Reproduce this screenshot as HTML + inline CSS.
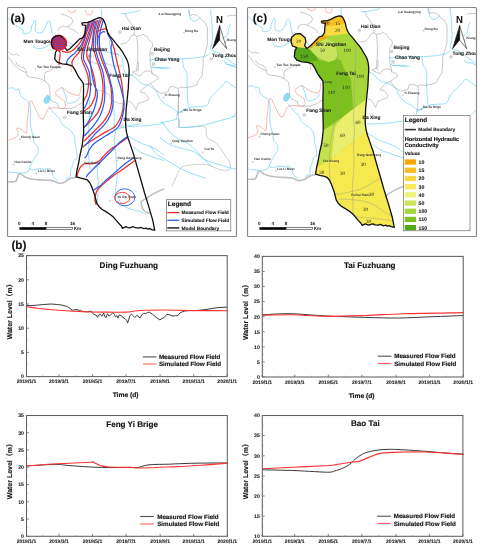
<!DOCTYPE html>
<html><head><meta charset="utf-8"><title>Figure</title>
<style>html,body{margin:0;padding:0;background:#fff;}body{width:482px;height:550px;overflow:hidden;}svg{display:block;}</style>
</head><body>
<svg width="482" height="550" viewBox="0 0 482 550" font-family="Liberation Sans, Arial, sans-serif">
<defs>
<clipPath id="bclip"><path d="M321.4,21.3 L323.5,20.8 L326.6,20.8 L330.7,19.3 L334.9,17.2 L338.0,16.1 L340.5,15.8 L342.5,17.1 L344.1,20.0 L345.4,23.3 L346.2,27.4 L347.4,30.8 L349.5,34.1 L352.4,37.4 L355.7,41.6 L359.1,45.7 L361.6,49.0 L364.0,53.2 L366.5,57.5 L368.0,62.0 L368.7,67.0 L368.7,72.0 L368.3,77.0 L367.9,85.9 L366.8,96.8 L365.7,107.7 L365.2,118.6 L365.3,124.1 L366.1,130.0 L367.6,135.5 L369.5,140.9 L373.2,151.8 L376.8,164.5 L380.5,177.3 L384.1,190.0 L388.6,204.5 L392.3,217.3 L394.3,227.3 L391.4,226.6 L389.0,225.6 L387.0,226.2 L385.9,225.2 L383.5,225.8 L380.5,224.4 L378.0,225.2 L375.0,224.8 L373.0,223.8 L371.4,224.2 L369.5,225.0 L367.7,224.8 L365.5,223.8 L363.5,224.6 L362.2,225.4 L361.0,223.2 L358.5,220.6 L356.0,217.8 L353.0,214.2 L349.8,211.6 L345.5,208.8 L341.5,206.4 L338.5,203.6 L336.3,200.2 L335.2,196.0 L334.2,191.9 L332.6,187.6 L331.1,183.6 L329.2,179.8 L327.0,177.3 L323.5,176.2 L319.7,175.3 L315.6,174.2 L316.5,168.0 L318.3,160.0 L319.7,152.0 L321.8,143.0 L323.2,131.0 L323.2,125.0 L322.9,112.3 L322.9,99.5 L323.2,86.8 L322.9,81.1 L321.0,78.5 L317.8,74.1 L314.6,67.7 L312.1,63.9 L307.6,62.4 L301.8,61.8 L296.8,60.1 L294.3,56.8 L295.1,50.2 L296.8,47.7 L292.6,46.0 L291.0,41.9 L291.8,36.9 L295.5,33.9 L300.1,33.6 L305.1,37.7 L305.9,41.9 L304.6,45.6 L306.8,48.5 L310.0,46.2 L313.1,43.1 L316.2,40.0 L319.3,36.9 L322.4,35.9 L324.5,32.7 L325.0,25.5 L325.6,23.4 L321.9,22.9 Z"/></clipPath>
<clipPath id="pa"><rect x="8" y="8" width="228" height="228"/></clipPath>
<clipPath id="pc"><rect x="248" y="8" width="228" height="228"/></clipPath>
<clipPath id="blobclip"><path d="M296.8,47.7 C295.5,47.4 293.6,47.0 292.6,46.0 C291.6,45.0 291.1,43.4 291.0,41.9 C290.9,40.4 291.1,38.2 291.8,36.9 C292.6,35.6 294.1,34.4 295.5,33.9 C296.9,33.4 298.5,33.0 300.1,33.6 C301.7,34.2 304.1,36.3 305.1,37.7 C306.1,39.1 306.0,40.6 305.9,41.9 C305.8,43.2 305.5,44.6 304.6,45.6 C303.7,46.6 301.8,47.4 300.5,47.8 C299.2,48.1 298.1,48.0 296.8,47.7 Z"/></clipPath>
</defs>
<style>text{paint-order:stroke;text-rendering:geometricPrecision;} .hv{stroke:#1a1a1a;stroke-width:0.15px;} .lv{stroke:#222;stroke-width:0.09px;}</style>
<rect width="482" height="550" fill="#fff"/>
<rect x="7.5" y="7.5" width="229" height="229" fill="#fff" stroke="#8a8a8a" stroke-width="1.2" rx="1"/>
<g clip-path="url(#pa)">
<g transform="translate(-239.6,1.8) scale(1,1.005)">
<path d="M247.5,179.3 C248.2,179.3 250.7,179.3 252.0,179.2 C253.3,179.1 254.6,179.3 255.5,178.5 C256.4,177.7 256.7,175.7 257.2,174.5 C257.7,173.3 257.9,171.7 258.6,171.3 C259.3,170.9 260.3,171.4 261.4,172.0 C262.5,172.6 263.5,173.9 265.1,174.6 C266.7,175.3 268.7,175.9 271.0,176.3 C273.3,176.7 276.2,177.0 279.0,177.2 C281.8,177.4 285.2,177.4 287.5,177.6 C289.8,177.8 291.5,177.8 293.0,178.2 C294.5,178.6 295.5,179.4 296.5,179.8 C297.5,180.2 297.7,180.7 299.0,180.6 C300.3,180.5 302.5,180.3 304.3,179.5 C306.1,178.7 308.0,176.7 309.9,175.9 C311.8,175.1 314.6,174.8 315.5,174.6" fill="none" stroke="#c0c0c0" stroke-width="1.6"/>
<path d="M404.0,186.5 C403.5,186.6 402.5,186.5 400.9,187.2 C399.3,187.8 396.5,189.2 394.3,190.4 C392.1,191.6 389.9,193.2 387.7,194.6 C385.5,196.0 382.0,197.3 381.0,198.7 C380.0,200.1 381.2,201.6 381.5,203.0 C381.8,204.4 381.7,205.7 382.7,206.9 C383.7,208.1 386.5,209.9 387.7,210.3 C388.9,210.7 389.7,209.6 390.1,209.5" fill="none" stroke="#c0c0c0" stroke-width="1.6"/>
<path d="M300.0,12.0 L305.0,13.2 L308.7,15.1 L311.2,16.3 L312.5,19.5 L311.2,21.9 L307.5,24.4 L310.0,26.9 L313.7,28.2 L316.2,30.0 L318.0,33.0" fill="none" stroke="#9c9c9c" stroke-width="0.55"/>
<path d="M297.8,29.2 L299.1,25.4 L302.8,24.2 L308.0,25.4" fill="none" stroke="#9c9c9c" stroke-width="0.55"/>
<path d="M248.0,49.7 L250.0,51.5 L253.0,53.0 L256.0,52.0 L259.0,54.0" fill="none" stroke="#9c9c9c" stroke-width="0.55"/>
<path d="M248.0,55.3 L250.5,57.8 L251.7,60.3 L255.5,64.0 L258.0,66.5 L262.0,69.0 L266.0,70.5" fill="none" stroke="#9c9c9c" stroke-width="0.55"/>
<path d="M255.5,60.0 L256.7,62.5 L260.5,65.0 L263.0,65.0 L266.0,68.7 L266.7,73.7 L269.2,74.9 L275.4,75.6 L280.4,76.8 L284.1,78.7 L286.6,80.5 L288.5,82.4 L289.1,86.2 L289.7,91.1 L289.7,96.1 L291.0,98.6 L294.1,99.9 L297.2,101.1 L297.8,104.8 L300.3,106.1 L304.0,106.1 L310.0,106.1 L316.0,104.0 L322.0,100.0" fill="none" stroke="#9c9c9c" stroke-width="0.55"/>
<path d="M284.1,78.7 L284.1,72.5 L285.4,70.0 L289.1,68.7 L292.8,66.2 L296.0,65.5 L301.0,65.2" fill="none" stroke="#9c9c9c" stroke-width="0.55"/>
<path d="M365.0,11.7 L366.2,15.5 L370.0,20.5 L372.5,24.2 L373.7,29.2 L373.7,32.9 L371.2,33.5 L368.7,37.9 L365.6,41.0 L362.5,41.6 L360.0,42.2" fill="none" stroke="#9c9c9c" stroke-width="0.55"/>
<path d="M373.7,32.9 L376.2,34.2 L376.8,37.9 L377.4,45.4 L377.4,55.3 L376.8,62.8 L376.2,68.0 L378.0,70.0" fill="none" stroke="#9c9c9c" stroke-width="0.55"/>
<path d="M376.2,34.2 L381.2,33.5 L382.4,32.3 L386.2,34.2 L388.6,37.9 L391.8,40.4 L392.4,44.1 L389.9,47.9 L389.3,52.8 L389.9,57.8 L389.9,62.8 L391.1,68.0 L391.7,72.5" fill="none" stroke="#9c9c9c" stroke-width="0.55"/>
<path d="M378.0,60.0 L378.0,67.5 L371.7,70.0 L374.2,71.2 L376.7,72.5 L380.5,73.7 L382.9,70.0 L386.7,68.7 L390.4,69.3 L392.9,72.5 L396.6,73.7 L397.9,76.2 L394.2,78.7 L390.4,81.2 L386.7,83.0 L384.2,84.9 L381.7,87.4 L379.8,89.9 L384.2,90.5 L385.4,92.4 L387.9,94.9 L387.9,97.4 L385.4,98.6 L381.7,99.9 L378.0,101.1 L376.7,104.8 L375.5,107.3 L373.0,102.3 L370.5,99.9 L368.0,99.2" fill="none" stroke="#9c9c9c" stroke-width="0.55"/>
<path d="M390.4,81.2 L392.9,84.9 L396.6,88.6 L400.4,91.1 L404.1,90.5 L407.9,89.3 L409.1,84.9 L412.8,84.3 L417.8,86.2 L420.3,84.9 L424.0,85.5 L431.7,84.3 L436.7,82.4 L437.9,78.7 L441.7,73.7 L442.3,67.5 L442.9,60.0" fill="none" stroke="#9c9c9c" stroke-width="0.55"/>
<path d="M417.8,86.2 L418.4,92.4 L417.8,99.9 L417.8,107.3 L416.6,112.3" fill="none" stroke="#9c9c9c" stroke-width="0.55"/>
<path d="M428.5,8.0 L429.4,13.6 L433.0,12.5 L436.8,13.6 L441.8,18.6 L444.5,20.6 L447.0,25.7 L447.0,42.5 L443.8,54.0 L442.6,56.8 L442.9,60.0" fill="none" stroke="#9c9c9c" stroke-width="0.55"/>
<path d="M466.7,14.5 L470.0,13.5 L476.0,13.5" fill="none" stroke="#9c9c9c" stroke-width="0.55"/>
<path d="M248.0,137.9 L253.0,136.1 L257.3,133.6 L258.0,129.8 L256.7,128.0 L256.1,126.1 L258.0,125.5 L261.7,127.3 L264.2,129.8 L266.1,130.5 L266.7,126.7 L266.7,121.7 L266.7,120.0 L267.9,109.8 L268.5,101.1 L269.8,98.6 L271.7,99.2 L272.9,102.3 L275.4,107.3 L277.9,112.3 L280.4,116.7 L282.9,116.7 L284.7,113.5 L286.0,109.8 L287.9,106.7 L290.3,105.5 L295.3,105.5 L300.3,106.1 L304.0,106.1 L305.3,103.6 L304.0,98.6 L300.3,96.1 L296.6,93.6 L294.7,90.5 L295.9,88.6 L297.8,88.0 L300.3,85.5 L302.8,86.2 L305.3,88.0 L308.0,89.9 L313.4,92.4 L318.4,93.3 L320.0,90.0 L320.9,83.3" fill="none" stroke="#f08a7a" stroke-width="0.6"/>
<path d="M306.8,8.2 L310.0,10.1 L312.5,10.7 L314.9,9.5 L315.6,7.6" fill="none" stroke="#f08a7a" stroke-width="0.6"/>
<path d="M324.9,8.2 L325.5,10.7 L326.8,12.6 L329.9,13.2 L331.8,11.4 L332.1,8.2" fill="none" stroke="#f08a7a" stroke-width="0.6"/>
<path d="M309.0,63.5 L311.0,66.0 L310.5,70.0" fill="none" stroke="#f08a7a" stroke-width="0.6"/>
<path d="M248.0,16.7 C248.6,17.2 250.4,18.6 251.7,19.8 C252.9,21.0 254.0,22.5 255.5,23.6 C257.0,24.8 259.3,25.9 260.5,26.7 C261.7,27.5 262.6,27.8 262.9,28.5 C263.2,29.2 261.9,30.5 262.3,31.0 C262.7,31.5 264.2,31.8 265.4,31.7 C266.5,31.6 268.3,31.0 269.2,30.4 C270.1,29.8 270.7,28.9 271.0,27.9 C271.3,26.9 270.7,25.2 271.0,24.2 C271.3,23.2 272.5,22.5 272.9,21.7 C273.3,20.9 273.2,19.7 273.5,19.2 C273.8,18.7 274.5,18.3 274.8,18.6 C275.1,18.9 275.4,20.0 275.4,21.1 C275.4,22.2 274.8,23.9 274.8,25.4 C274.8,26.8 274.8,28.9 275.4,29.8 C276.0,30.7 277.5,30.9 278.5,31.0 C279.5,31.1 280.7,31.0 281.6,30.4 C282.5,29.8 283.4,28.6 284.1,27.3 C284.8,26.1 285.5,24.1 286.0,22.9 C286.5,21.6 286.7,20.3 287.2,19.8 C287.7,19.3 288.6,19.3 289.1,19.8 C289.6,20.3 290.0,21.5 290.3,22.9 C290.6,24.2 290.7,26.2 291.0,27.9 C291.3,29.6 291.7,31.5 292.2,32.9 C292.7,34.2 293.8,35.5 294.1,36.0" fill="none" stroke="#56c7f0" stroke-width="0.6"/>
<path d="M272.9,42.9 C273.1,43.3 273.4,44.8 274.2,45.4 C275.0,46.0 276.4,46.5 277.9,46.6 C279.3,46.7 281.4,46.4 282.9,46.0 C284.3,45.6 285.6,44.6 286.6,44.1 C287.6,43.6 288.2,43.3 289.1,42.9 C290.0,42.5 291.7,41.8 292.2,41.6" fill="none" stroke="#56c7f0" stroke-width="0.6"/>
<path d="M305.9,42.9 C306.2,43.1 307.3,43.8 308.0,44.1 C308.7,44.5 309.7,44.9 310.0,45.0" fill="none" stroke="#56c7f0" stroke-width="0.6"/>
<path d="M341.1,8.0 L341.3,15.1" fill="none" stroke="#56c7f0" stroke-width="0.6"/>
<path d="M361.2,11.7 C361.8,11.7 363.3,11.9 365.0,11.7 C366.7,11.5 369.5,10.8 371.2,10.5 C372.9,10.2 373.6,10.2 375.0,9.9 C376.4,9.6 379.1,8.8 379.9,8.6" fill="none" stroke="#56c7f0" stroke-width="0.6"/>
<path d="M388.6,57.8 C389.2,57.8 390.8,57.9 392.4,57.8 C394.0,57.7 395.1,57.4 398.0,57.2 C400.9,57.0 406.3,56.9 410.0,56.8 C413.7,56.7 416.9,56.9 420.2,56.8 C423.5,56.7 426.7,56.5 430.0,56.2 C433.3,55.9 437.5,55.6 440.2,55.1 C442.9,54.6 444.4,54.2 446.0,53.5 C447.6,52.8 449.4,51.4 450.1,51.0" fill="none" stroke="#56c7f0" stroke-width="0.6"/>
<path d="M392.4,65.3 C393.2,65.3 394.9,65.4 397.4,65.5 C399.9,65.6 405.2,65.8 407.3,65.9 C409.4,66.0 409.6,66.0 410.0,66.0" fill="none" stroke="#56c7f0" stroke-width="0.6"/>
<path d="M391.7,60.0 C391.8,60.4 392.3,61.7 392.3,62.5 C392.3,63.3 391.2,64.5 391.7,65.0 C392.2,65.5 393.9,65.4 395.4,65.6 C396.8,65.8 398.7,65.9 400.4,66.0 C402.1,66.1 404.3,66.0 405.4,66.2 C406.5,66.5 406.9,67.3 407.2,67.5" fill="none" stroke="#56c7f0" stroke-width="0.6"/>
<path d="M450.1,8.0 C450.2,9.2 450.6,12.2 450.9,15.3 C451.2,18.4 451.6,22.8 451.8,26.9 C452.0,31.0 452.1,36.9 451.8,40.2 C451.5,43.5 449.8,45.3 450.1,46.8 C450.4,48.3 451.8,48.5 453.4,49.3 C455.0,50.1 457.8,50.5 460.0,51.8 C462.2,53.0 464.0,54.9 466.7,56.8 C469.4,58.7 474.4,62.3 476.0,63.4" fill="none" stroke="#56c7f0" stroke-width="0.6"/>
<path d="M421.9,56.8 C422.0,57.3 422.2,58.6 422.4,60.0 C422.6,61.4 422.5,63.5 423.0,65.0 C423.5,66.5 424.9,67.5 425.5,68.7 C426.1,70.0 426.5,69.8 426.7,72.5 C426.9,75.2 426.6,80.8 426.7,84.9 C426.8,89.1 427.1,94.1 427.3,97.4 C427.5,100.7 427.9,103.6 428.0,104.8" fill="none" stroke="#56c7f0" stroke-width="0.6"/>
<path d="M464.1,60.0 C464.5,60.4 465.4,62.0 466.6,62.5 C467.8,63.0 470.1,62.7 471.5,63.1 C472.9,63.5 474.4,64.5 475.3,65.0 C476.2,65.5 476.7,65.8 477.0,66.0" fill="none" stroke="#56c7f0" stroke-width="0.6"/>
<path d="M470.0,22.0 C469.7,23.0 468.6,26.1 468.0,28.0 C467.4,29.9 468.0,32.1 466.7,33.6 C465.4,35.1 461.8,36.1 460.0,37.0 C458.2,37.9 456.7,38.7 456.0,39.0" fill="none" stroke="#56c7f0" stroke-width="0.6"/>
<path d="M427.6,7.5 C427.8,8.3 428.5,10.8 429.0,12.5 C429.5,14.2 429.7,16.3 430.5,17.5 C431.3,18.7 432.8,19.5 434.0,19.5 C435.2,19.5 436.5,18.2 437.5,17.5 C438.5,16.8 439.6,15.8 440.0,15.5" fill="none" stroke="#56c7f0" stroke-width="0.6"/>
<path d="M368.0,70.6 C368.4,70.9 369.5,71.8 370.5,72.5 C371.5,73.2 372.8,73.7 374.2,74.9 C375.6,76.1 377.5,78.7 379.2,79.9 C380.9,81.2 382.8,81.9 384.2,82.4 C385.6,82.9 386.4,82.4 387.9,83.0 C389.3,83.6 391.4,85.0 392.9,86.2 C394.3,87.4 395.8,88.7 396.6,89.9 C397.4,91.1 397.1,92.1 397.9,93.6 C398.7,95.0 400.4,97.1 401.6,98.6 C402.9,100.0 403.9,101.3 405.4,102.3 C406.8,103.3 408.9,104.0 410.3,104.8 C411.8,105.6 412.9,106.5 414.1,107.3 C415.4,108.1 416.6,109.6 417.8,109.8 C419.0,110.0 420.2,109.0 421.5,108.6 C422.8,108.2 423.8,107.9 425.3,107.3 C426.8,106.7 428.4,105.3 430.5,104.8 C432.6,104.3 435.4,104.4 437.9,104.2 C440.4,104.0 443.7,104.1 445.4,103.6 C447.1,103.1 447.3,102.1 447.9,101.1 C448.5,100.1 448.3,98.9 449.1,97.4 C449.9,96.0 451.4,94.1 452.9,92.4 C454.4,90.7 456.2,89.1 457.9,87.4 C459.5,85.7 461.6,83.8 462.8,82.4 C464.0,81.1 464.2,79.5 465.3,79.3 C466.4,79.1 467.9,80.5 469.1,81.2 C470.4,81.9 471.6,82.9 472.8,83.7 C474.0,84.5 475.9,85.8 476.5,86.2" fill="none" stroke="#56c7f0" stroke-width="0.6"/>
<path d="M417.8,109.8 C417.6,110.4 417.0,112.5 416.6,113.5 C416.2,114.5 415.7,115.6 415.5,116.0" fill="none" stroke="#56c7f0" stroke-width="0.6"/>
<path d="M418.0,111.1 L423.0,108.0" fill="none" stroke="#56c7f0" stroke-width="0.6"/>
<path d="M471.5,114.8 C472.1,114.2 474.4,111.9 475.3,111.1 C476.2,110.3 476.7,110.2 477.0,110.0" fill="none" stroke="#56c7f0" stroke-width="0.6"/>
<path d="M367.0,124.0 C369.8,123.9 378.1,123.9 383.6,123.5 C389.1,123.1 396.8,121.9 400.2,121.5 C403.6,121.1 403.4,121.1 404.0,121.0" fill="none" stroke="#56c7f0" stroke-width="0.6"/>
<path d="M367.0,134.0 C367.6,134.1 368.4,133.8 370.3,134.8 C372.2,135.8 375.8,138.4 378.6,139.8 C381.4,141.2 384.1,142.0 386.9,143.1 C389.7,144.2 393.0,145.3 395.2,146.4 C397.4,147.5 398.7,148.6 400.2,149.7 C401.7,150.8 403.4,152.4 404.0,153.0" fill="none" stroke="#56c7f0" stroke-width="0.6"/>
<path d="M373.6,144.7 C374.7,145.5 377.8,148.3 380.3,149.7 C382.8,151.1 385.8,151.9 388.6,153.0 C391.4,154.1 394.4,155.2 397.0,156.0 C399.6,156.8 402.8,157.7 404.0,158.0" fill="none" stroke="#56c7f0" stroke-width="0.6"/>
<path d="M248.0,86.8 C248.4,86.6 249.6,85.6 250.5,85.5 C251.4,85.4 252.8,85.8 253.6,86.2 C254.4,86.6 254.8,87.9 255.5,88.0 C256.2,88.1 257.4,86.7 258.0,86.8 C258.6,86.9 258.9,87.7 259.2,88.6 C259.5,89.5 259.2,91.2 259.8,92.4 C260.4,93.7 261.9,95.2 262.9,96.1 C263.9,97.0 265.1,97.4 266.0,98.0 C266.9,98.6 267.9,99.0 268.5,99.9 C269.1,100.8 269.5,101.9 269.8,103.6 C270.1,105.2 270.4,107.9 270.4,109.8 C270.4,111.7 269.9,113.1 269.8,114.8 C269.7,116.5 269.7,118.2 269.8,120.0 C269.9,121.8 269.9,123.1 270.4,125.5 C270.9,127.9 272.4,131.7 272.9,134.2 C273.4,136.7 272.8,138.7 273.5,140.4 C274.2,142.1 276.6,142.8 277.3,144.2 C278.0,145.6 278.2,147.4 277.9,149.1 C277.6,150.8 276.3,152.4 275.4,154.1 C274.5,155.8 273.2,157.4 272.3,159.1 C271.4,160.8 270.3,163.1 269.8,164.1 C269.3,165.1 269.1,164.8 269.2,165.3 C269.3,165.8 269.5,166.9 270.4,167.2 C271.3,167.5 273.4,167.4 274.8,167.2 C276.2,167.0 277.6,166.1 279.1,166.0 C280.7,165.9 282.6,166.6 284.1,166.6 C285.6,166.6 286.8,165.7 287.9,165.9 C289.0,166.1 290.3,166.9 291.0,167.8 C291.7,168.7 291.7,170.2 292.2,171.5 C292.7,172.8 293.2,174.2 294.1,175.3 C295.0,176.4 297.2,177.6 297.8,178.0" fill="none" stroke="#56c7f0" stroke-width="0.6"/>
<path d="M248.0,169.1 C248.6,169.2 250.0,169.5 251.7,169.7 C253.4,169.9 256.1,170.2 258.0,170.3 C259.9,170.4 261.3,170.5 262.9,170.3 C264.4,170.1 266.2,169.9 267.3,169.1 C268.4,168.3 268.9,165.9 269.2,165.3" fill="none" stroke="#56c7f0" stroke-width="0.6"/>
<path d="M286.6,93.6 C287.0,93.8 288.7,94.4 289.1,95.0 C289.5,95.6 289.4,96.7 289.1,97.4 C288.8,98.1 287.9,99.1 287.5,99.0 C287.1,98.9 286.7,97.3 286.5,97.0" fill="none" stroke="#56c7f0" stroke-width="0.6"/>
<path d="M287.9,103.6 C288.7,104.6 291.1,107.9 292.8,109.8 C294.5,111.7 296.6,113.3 297.8,114.8 C299.1,116.2 299.7,117.3 300.3,118.5 C300.9,119.7 300.5,120.5 301.5,121.7 C302.5,122.9 305.1,124.5 306.5,125.5 C307.9,126.5 308.9,126.7 310.0,128.0 C311.1,129.3 312.6,130.6 313.4,133.1 C314.2,135.6 314.4,139.4 315.0,143.0 C315.6,146.6 317.0,152.2 316.7,154.7 C316.4,157.2 314.1,156.8 313.4,158.0 C312.7,159.2 313.2,159.9 312.6,161.6 C312.1,163.3 310.5,166.4 310.1,168.3 C309.7,170.2 310.5,172.0 310.1,173.3 C309.8,174.6 308.4,175.6 308.0,176.0" fill="none" stroke="#56c7f0" stroke-width="0.6"/>
<path d="M301.5,84.9 C301.8,85.4 302.4,86.5 303.0,88.0 C303.6,89.5 304.7,91.6 305.3,93.6 C305.9,95.6 305.7,98.7 306.5,99.9 C307.3,101.1 308.3,101.3 310.0,101.0 C311.7,100.7 315.0,99.5 316.7,98.3 C318.4,97.1 319.4,94.7 320.0,94.0" fill="none" stroke="#56c7f0" stroke-width="0.6"/>
<path d="M305.3,178.0 C305.5,177.6 306.1,176.0 306.5,175.3 C306.9,174.6 307.8,174.2 308.0,174.0" fill="none" stroke="#56c7f0" stroke-width="0.6"/>
<path d="M284,96 L286.5,93 L289,93.5 L289.5,97 L288,100.5 L285,101.5 L283.5,99.5 Z" fill="#8fdcf5" stroke="#56c7f0" stroke-width="0.4"/>
<circle cx="359.4" cy="30.2" r="1.6" fill="#d8d8d8" stroke="#c0c0c0" stroke-width="0.3"/>
<circle cx="391.8" cy="51.6" r="1.6" fill="#d8d8d8" stroke="#c0c0c0" stroke-width="0.3"/>
<circle cx="393.4" cy="61.8" r="1.6" fill="#d8d8d8" stroke="#c0c0c0" stroke-width="0.3"/>
<circle cx="451" cy="56.8" r="1.6" fill="#d8d8d8" stroke="#c0c0c0" stroke-width="0.3"/>
<circle cx="304.3" cy="114.9" r="1.6" fill="#d8d8d8" stroke="#c0c0c0" stroke-width="0.3"/>
<circle cx="361.5" cy="124" r="1.6" fill="#d8d8d8" stroke="#c0c0c0" stroke-width="0.3"/>
<circle cx="423.6" cy="30.5" r="0.6" fill="none" stroke="#777" stroke-width="0.3"/>
<circle cx="398.6" cy="12.5" r="0.6" fill="none" stroke="#777" stroke-width="0.3"/>
<circle cx="465" cy="40" r="0.6" fill="none" stroke="#777" stroke-width="0.3"/>
<circle cx="402.9" cy="95.1" r="0.6" fill="none" stroke="#777" stroke-width="0.3"/>
<circle cx="421.7" cy="109.8" r="0.6" fill="none" stroke="#777" stroke-width="0.3"/>
<circle cx="259.5" cy="136.7" r="0.6" fill="none" stroke="#777" stroke-width="0.3"/>
<circle cx="253" cy="161.8" r="0.6" fill="none" stroke="#777" stroke-width="0.3"/>
<circle cx="276" cy="170.9" r="0.6" fill="none" stroke="#777" stroke-width="0.3"/>
<circle cx="275" cy="67" r="0.6" fill="none" stroke="#777" stroke-width="0.3"/>
<circle cx="356.5" cy="158" r="0.6" fill="none" stroke="#777" stroke-width="0.3"/>
<circle cx="322.5" cy="164" r="0.6" fill="none" stroke="#777" stroke-width="0.3"/>
<circle cx="349.5" cy="198" r="0.6" fill="none" stroke="#777" stroke-width="0.3"/>
</g>
<text x="23.6" y="42.8" font-size="4.85" font-weight="bold" fill="#222" class="lv">Men Tougou</text>
<path d="M177.3,127.2 C179.4,127.2 185.6,127.4 189.7,127.2 C193.8,127.0 199.4,125.8 202.1,126.0 C204.8,126.2 205.1,126.6 205.9,128.5 C206.7,130.4 205.7,134.9 207.1,137.2 C208.5,139.5 212.5,140.5 214.6,142.2 C216.7,143.8 217.9,145.0 219.6,147.1 C221.3,149.2 222.9,152.1 224.6,154.6 C226.2,157.1 228.7,159.6 229.5,162.1 C230.3,164.6 231.2,168.3 229.5,169.5 C227.8,170.7 223.3,170.3 219.6,169.5 C215.9,168.7 211.2,165.4 207.1,164.6 C202.9,163.8 198.8,164.2 194.7,164.6 C190.5,165.0 185.1,165.3 182.2,167.0 C179.3,168.7 178.5,172.3 177.3,174.5 C176.1,176.7 175.7,178.1 174.8,180.0 C173.9,181.9 172.5,185.0 172.0,186.0" fill="none" stroke="#9c9c9c" stroke-width="0.5"/>
<path d="M178.5,94.9 C178.5,97.4 178.5,104.6 178.5,110.0 C178.5,115.4 178.5,124.3 178.5,127.2" fill="none" stroke="#9c9c9c" stroke-width="0.5"/>
<path d="M86.0,60.0 C87.0,60.3 90.0,61.3 92.0,62.0 C94.0,62.7 96.0,63.8 98.0,64.0 C100.0,64.2 102.0,62.8 104.0,63.0 C106.0,63.2 108.0,64.5 110.0,65.0 C112.0,65.5 114.0,65.8 116.0,66.0 C118.0,66.2 121.0,66.0 122.0,66.0" fill="none" stroke="#9c9c9c" stroke-width="0.5"/>
<path d="M96.0,90.0 C97.0,90.2 100.0,90.3 102.0,91.0 C104.0,91.7 106.3,92.5 108.0,94.0 C109.7,95.5 110.3,98.5 112.0,100.0 C113.7,101.5 115.7,102.3 118.0,103.0 C120.3,103.7 124.7,103.8 126.0,104.0" fill="none" stroke="#9c9c9c" stroke-width="0.5"/>
<path d="M160.0,122.5 C161.3,122.3 165.5,122.0 168.0,121.5 C170.5,121.0 173.1,120.2 174.8,119.7 C176.6,119.2 177.7,118.1 178.5,118.5 C179.3,118.9 179.5,120.5 179.7,122.0 C179.9,123.5 178.6,126.3 179.7,127.2 C180.8,128.1 183.5,127.4 186.0,127.3 C188.5,127.2 191.7,127.1 194.7,126.7 C197.7,126.3 200.7,125.8 204.0,125.0 C207.3,124.2 210.9,123.2 214.6,122.2 C218.3,121.2 222.3,120.0 226.0,119.0 C229.7,118.0 235.2,116.5 237.0,116.0" fill="none" stroke="#56c7f0" stroke-width="0.6"/>
<path d="M162.3,122.2 C163.6,123.9 166.9,129.3 169.8,132.2 C172.7,135.1 176.4,137.6 179.7,139.7 C183.0,141.8 186.4,142.1 189.7,144.6 C193.0,147.1 196.8,151.7 199.7,154.6 C202.6,157.5 205.0,160.0 207.1,162.1 C209.2,164.2 211.2,166.2 212.0,167.0" fill="none" stroke="#56c7f0" stroke-width="0.6"/>
<path d="M159.8,137.2 C161.5,138.4 166.1,142.7 169.8,144.6 C173.5,146.5 178.0,147.2 182.2,148.4 C186.3,149.7 191.0,150.2 194.7,152.1 C198.4,154.0 200.4,157.5 204.6,159.6 C208.8,161.7 215.9,163.4 219.6,164.6 C223.3,165.8 224.1,166.2 227.0,167.0 C229.9,167.8 235.3,169.1 237.0,169.5" fill="none" stroke="#56c7f0" stroke-width="0.6"/>
<path d="M150.0,145.0 C151.2,146.6 154.0,151.8 157.3,154.6 C160.6,157.4 165.7,159.6 169.8,162.1 C174.0,164.6 178.0,167.4 182.2,169.5 C186.3,171.6 190.9,173.1 194.7,174.5 C198.5,175.9 203.3,177.4 205.0,178.0" fill="none" stroke="#56c7f0" stroke-width="0.6"/>
<path d="M222.1,60.0 C223.3,60.8 227.0,63.8 229.5,65.0 C232.0,66.2 235.8,67.1 237.0,67.5" fill="none" stroke="#56c7f0" stroke-width="0.6"/>
<path d="M89.5,100.0 C89.5,102.5 89.6,110.1 89.5,115.0 C89.4,119.9 88.9,124.7 88.8,129.5 C88.7,134.3 88.8,139.2 88.8,144.0 C88.8,148.8 88.4,154.2 88.8,158.6 C89.2,163.0 89.7,169.1 91.0,170.2 C92.3,171.3 95.5,164.2 96.6,165.0 C97.7,165.8 97.1,171.4 97.4,175.0 C97.7,178.6 98.3,181.9 98.3,186.6 C98.3,191.3 97.6,200.4 97.4,203.2" fill="none" stroke="#56c7f0" stroke-width="0.6"/>
<path d="M113.0,100.0 C113.2,102.5 114.0,110.1 114.2,115.0 C114.4,119.9 114.0,126.8 114.2,129.5 C114.5,132.2 115.7,129.3 115.7,131.0 C115.7,132.7 114.2,136.3 114.2,139.7 C114.2,143.1 115.3,147.0 115.7,151.3 C116.1,155.7 116.2,161.5 116.4,165.8 C116.6,170.2 117.2,173.4 117.1,177.4 C117.0,181.4 115.5,186.4 115.7,189.9 C115.9,193.4 116.7,195.4 118.2,198.2 C119.7,201.0 122.3,204.6 124.8,206.5 C127.3,208.4 130.6,209.0 133.1,209.8 C135.6,210.6 137.6,210.7 139.8,211.5 C142.0,212.3 145.3,214.2 146.4,214.8" fill="none" stroke="#56c7f0" stroke-width="0.6"/>
<path d="M117.1,129.5 C118.5,129.0 121.9,127.6 125.8,126.6 C129.7,125.6 138.0,124.2 140.4,123.7" fill="none" stroke="#56c7f0" stroke-width="0.6"/>
<path d="M68.6,42.4 C69.5,42.9 72.4,44.8 74.0,45.5 C75.6,46.2 76.0,46.4 78.0,46.8 C80.0,47.2 83.3,47.5 86.0,47.8 C88.7,48.1 91.4,48.2 94.2,48.7 C97.0,49.2 100.4,50.0 102.9,50.6 C105.4,51.2 107.2,51.9 109.1,52.4 C111.0,52.9 112.4,53.4 114.1,53.7 C115.8,54.0 118.3,54.0 119.1,54.0" fill="none" stroke="#56c7f0" stroke-width="0.6"/>
<path d="M109.2,40.0 C109.4,41.1 109.8,44.3 110.3,46.5 C110.8,48.7 111.3,51.8 112.4,53.1 C113.5,54.4 115.3,53.7 116.8,54.2 C118.3,54.8 120.2,55.1 121.2,56.4 C122.2,57.7 122.4,59.8 122.8,61.8 C123.2,63.8 123.0,66.6 123.4,68.4 C123.9,70.2 124.8,71.6 125.5,72.7 C126.2,73.8 126.4,74.5 127.7,74.9 C129.0,75.3 132.3,74.9 133.2,74.9" fill="none" stroke="#56c7f0" stroke-width="0.6"/>
<g transform="translate(-239.6,1.8) scale(1,1.005)">
<path d="M296.8,47.7 C295.5,47.4 293.6,47.0 292.6,46.0 C291.6,45.0 291.1,43.4 291.0,41.9 C290.9,40.4 291.1,38.2 291.8,36.9 C292.6,35.6 294.1,34.4 295.5,33.9 C296.9,33.4 298.5,33.0 300.1,33.6 C301.7,34.2 304.1,36.3 305.1,37.7 C306.1,39.1 306.0,40.6 305.9,41.9 C305.8,43.2 305.5,44.6 304.6,45.6 C303.7,46.6 301.8,47.4 300.5,47.8 C299.2,48.1 298.1,48.0 296.8,47.7 Z" fill="#b02c5c"/>
<g clip-path="url(#blobclip)">
<line x1="289" y1="33.1" x2="308" y2="33.8" stroke="#4a48d0" stroke-width="0.6"/>
<line x1="289" y1="34.2" x2="308" y2="34.9" stroke="#f02a40" stroke-width="0.6"/>
<line x1="289" y1="35.3" x2="308" y2="36.0" stroke="#4a48d0" stroke-width="0.6"/>
<line x1="289" y1="36.4" x2="308" y2="37.1" stroke="#f02a40" stroke-width="0.6"/>
<line x1="289" y1="37.5" x2="308" y2="38.2" stroke="#4a48d0" stroke-width="0.6"/>
<line x1="289" y1="38.6" x2="308" y2="39.3" stroke="#f02a40" stroke-width="0.6"/>
<line x1="289" y1="39.7" x2="308" y2="40.4" stroke="#4a48d0" stroke-width="0.6"/>
<line x1="289" y1="40.8" x2="308" y2="41.5" stroke="#f02a40" stroke-width="0.6"/>
<line x1="289" y1="41.9" x2="308" y2="42.6" stroke="#4a48d0" stroke-width="0.6"/>
<line x1="289" y1="43.0" x2="308" y2="43.7" stroke="#f02a40" stroke-width="0.6"/>
<line x1="289" y1="44.1" x2="308" y2="44.8" stroke="#4a48d0" stroke-width="0.6"/>
<line x1="289" y1="45.2" x2="308" y2="45.9" stroke="#f02a40" stroke-width="0.6"/>
<line x1="289" y1="46.3" x2="308" y2="47.0" stroke="#4a48d0" stroke-width="0.6"/>
<line x1="289" y1="47.4" x2="308" y2="48.1" stroke="#f02a40" stroke-width="0.6"/>
<line x1="289" y1="48.5" x2="308" y2="49.2" stroke="#4a48d0" stroke-width="0.6"/>
</g>
<path d="M296.8,47.7 C295.5,47.4 293.6,47.0 292.6,46.0 C291.6,45.0 291.1,43.4 291.0,41.9 C290.9,40.4 291.1,38.2 291.8,36.9 C292.6,35.6 294.1,34.4 295.5,33.9 C296.9,33.4 298.5,33.0 300.1,33.6 C301.7,34.2 304.1,36.3 305.1,37.7 C306.1,39.1 306.0,40.6 305.9,41.9 C305.8,43.2 305.5,44.6 304.6,45.6 C303.7,46.6 301.8,47.4 300.5,47.8 C299.2,48.1 298.1,48.0 296.8,47.7 Z" fill="none" stroke="#f02a3a" stroke-width="1.4"/>
</g>
<circle cx="89.7" cy="56.2" r="2" fill="#e8b060" opacity="0.9"/>
<path d="M58.3,50.8 C58.6,51.1 59.7,51.4 60.0,52.4 C60.3,53.4 60.1,55.1 60.0,56.6 C59.9,58.1 59.2,60.2 59.1,61.6 C59.0,63.0 59.1,64.4 59.1,64.9" fill="none" stroke="#ee2a2a" stroke-width="1.25"/>
<path d="M88.5,21.8 C88.3,22.5 87.6,24.6 87.2,26.0 C86.8,27.4 86.5,28.4 85.9,30.0 C85.4,31.6 84.7,33.5 83.9,35.3 C83.1,37.1 82.3,38.9 81.3,40.6 C80.3,42.3 79.1,43.9 77.9,45.3 C76.7,46.7 75.3,48.1 74.0,49.2 C72.7,50.3 71.3,51.4 70.0,51.9 C68.7,52.4 67.3,52.3 66.0,52.2 C64.7,52.1 62.7,51.4 62.0,51.2" fill="none" stroke="#ee2a2a" stroke-width="1.25"/>
<path d="M90.5,21.4 C90.3,22.2 89.6,24.7 89.2,26.0 C88.8,27.3 88.5,27.9 87.9,29.3 C87.4,30.7 86.5,32.8 85.9,34.6 C85.4,36.4 85.1,38.1 84.6,39.9 C84.0,41.7 83.3,43.6 82.6,45.3 C81.9,47.0 81.4,48.5 80.6,49.9 C79.8,51.3 79.0,52.5 77.9,53.9 C76.8,55.2 75.0,56.6 74.0,58.0 C73.0,59.4 72.3,60.8 72.0,62.0 C71.7,63.2 72.2,64.9 72.3,65.5" fill="none" stroke="#ee2a2a" stroke-width="1.25"/>
<path d="M92.5,21.0 C92.2,21.8 91.3,24.4 90.8,26.0 C90.3,27.6 89.9,28.8 89.3,30.5 C88.7,32.2 88.1,34.0 87.4,36.0 C86.8,38.0 86.1,40.6 85.4,42.6 C84.7,44.6 84.0,46.2 83.4,47.9 C82.8,49.6 82.3,50.9 82.0,52.6 C81.7,54.3 81.5,56.4 81.6,58.0 C81.7,59.6 81.9,60.2 82.6,62.0 C83.2,63.8 84.6,66.2 85.5,68.6 C86.4,70.9 87.5,73.4 88.0,76.1 C88.5,78.8 88.8,81.6 88.6,84.8 C88.4,88.0 87.3,92.7 86.7,95.0 C86.1,97.3 85.3,97.5 84.8,98.5 C84.3,99.5 83.8,100.8 83.6,101.2" fill="none" stroke="#ee2a2a" stroke-width="1.25"/>
<path d="M95.0,20.5 C94.8,21.2 94.0,23.4 93.5,25.0 C93.0,26.6 92.8,28.2 92.3,30.0 C91.8,31.8 91.1,34.0 90.6,36.0 C90.0,38.0 89.5,40.1 89.0,42.0 C88.5,43.9 88.0,45.7 87.6,47.5 C87.2,49.3 86.9,51.0 86.8,52.6 C86.7,54.2 86.6,55.4 87.0,57.0 C87.4,58.6 88.2,59.4 89.2,62.0 C90.2,64.6 91.9,68.6 92.9,72.4 C93.9,76.2 95.0,81.0 95.4,84.8 C95.8,88.6 95.7,92.5 95.4,95.0 C95.1,97.5 94.4,98.1 93.6,100.0 C92.8,101.9 91.8,104.5 90.5,106.2 C89.2,107.9 86.7,109.2 85.5,110.0 C84.3,110.8 83.9,111.0 83.6,111.2" fill="none" stroke="#ee2a2a" stroke-width="1.25"/>
<path d="M97.8,20.0 C97.5,20.8 96.8,23.2 96.3,25.0 C95.8,26.8 95.2,28.8 94.8,31.0 C94.3,33.2 93.8,35.2 93.6,38.0 C93.4,40.8 92.9,43.9 93.4,47.5 C93.9,51.1 95.4,55.8 96.7,59.9 C98.0,64.0 100.0,68.2 101.0,72.4 C102.0,76.6 102.6,81.5 102.9,84.8 C103.2,88.1 103.1,89.0 102.9,92.0 C102.7,95.0 102.5,99.1 101.7,102.5 C100.9,105.9 99.6,109.5 97.9,112.4 C96.2,115.3 93.8,117.6 91.7,119.9 C89.6,122.2 86.8,124.8 85.5,126.1 C84.2,127.3 83.9,127.2 83.6,127.4" fill="none" stroke="#ee2a2a" stroke-width="1.25"/>
<path d="M101.5,19.0 C101.2,20.0 100.1,23.0 99.5,25.0 C98.9,27.0 98.3,28.8 98.0,31.0 C97.7,33.2 97.4,35.2 97.4,38.0 C97.4,40.8 97.2,43.9 97.9,47.5 C98.6,51.1 100.2,55.8 101.7,59.9 C103.2,64.0 105.1,68.2 106.6,72.4 C108.0,76.6 109.6,81.5 110.4,84.8 C111.2,88.1 111.2,89.0 111.4,92.0 C111.6,95.0 112.0,99.1 111.6,102.5 C111.2,105.9 110.5,109.1 109.1,112.4 C107.6,115.7 105.4,119.3 102.9,122.4 C100.4,125.5 97.1,128.2 94.2,131.1 C91.3,134.0 87.3,138.2 85.5,139.8 C83.7,141.5 83.9,140.8 83.6,141.0" fill="none" stroke="#ee2a2a" stroke-width="1.25"/>
<path d="M105.8,28.6 C104.8,28.9 101.4,29.6 99.9,30.3 C98.4,31.0 97.1,32.3 96.6,32.7" fill="none" stroke="#ee2a2a" stroke-width="1.25"/>
<path d="M106.0,27.5 C106.4,28.8 107.6,32.8 108.5,35.0 C109.4,37.2 110.5,38.5 111.5,41.0 C112.5,43.5 113.7,46.8 114.5,50.0 C115.3,53.2 115.8,56.7 116.6,60.0 C117.3,63.3 118.3,66.9 119.0,70.0 C119.7,73.1 120.4,75.3 121.0,78.6 C121.6,81.9 122.2,86.0 122.6,90.0 C123.0,94.0 123.7,98.3 123.5,102.5 C123.3,106.7 122.9,111.0 121.6,114.9 C120.2,118.8 118.5,123.0 115.4,126.1 C112.3,129.2 106.7,131.3 102.9,133.6 C99.2,135.9 95.8,137.9 92.9,139.8 C90.0,141.7 87.2,143.6 85.5,144.8 C83.8,146.1 83.4,146.9 83.0,147.3" fill="none" stroke="#ee2a2a" stroke-width="1.25"/>
<path d="M127.8,137.5 C126.2,138.7 121.0,142.4 118.0,144.5 C115.0,146.6 112.5,147.8 109.9,150.0 C107.3,152.2 104.3,155.6 102.4,157.5 C100.5,159.4 100.4,160.2 98.7,161.2 C97.0,162.2 94.8,163.3 92.5,163.7 C90.2,164.1 86.9,163.3 85.0,163.7 C83.1,164.1 82.3,165.0 81.2,166.2 C80.1,167.4 79.2,169.2 78.5,171.0 C77.8,172.8 77.1,176.0 76.8,177.0" fill="none" stroke="#ee2a2a" stroke-width="1.25"/>
<path d="M134.8,160.6 C132.9,161.9 127.5,165.9 123.6,168.7 C119.6,171.5 114.6,174.7 111.1,177.4 C107.6,180.1 104.7,182.8 102.4,184.9 C100.1,187.0 98.5,188.2 97.4,189.9 C96.3,191.6 96.0,193.2 95.6,194.8 C95.2,196.5 94.8,198.1 94.9,199.8 C95.0,201.5 96.0,204.0 96.2,204.8" fill="none" stroke="#ee2a2a" stroke-width="1.25"/>
<path d="M89.5,21.6 C89.3,22.3 88.7,24.6 88.2,26.0 C87.7,27.4 87.1,28.6 86.6,30.0 C86.1,31.4 85.7,33.1 85.2,34.6 C84.8,36.1 84.5,37.8 83.9,39.3 C83.4,40.8 82.7,42.5 81.9,43.9 C81.1,45.3 80.4,46.4 79.3,47.9 C78.2,49.4 76.8,51.2 75.3,52.6 C73.8,54.0 71.9,55.3 70.6,56.5 C69.3,57.7 68.2,58.8 67.5,60.0 C66.8,61.2 66.7,63.3 66.5,64.0" fill="none" stroke="#2a5ef0" stroke-width="1.25"/>
<path d="M93.7,20.8 C93.4,21.6 92.5,24.0 92.0,25.5 C91.5,27.0 91.0,28.4 90.5,30.0 C90.0,31.6 89.8,33.4 89.2,35.3 C88.7,37.2 87.9,39.3 87.2,41.3 C86.5,43.3 85.8,45.3 85.2,47.2 C84.7,49.1 84.2,50.8 83.9,52.6 C83.6,54.4 83.4,56.6 83.4,58.0 C83.5,59.4 83.8,60.0 84.2,61.0 C84.6,62.0 85.0,62.1 85.8,64.0 C86.6,65.9 88.4,68.9 89.2,72.4 C90.0,75.9 90.4,81.0 90.5,84.8 C90.6,88.6 90.2,92.5 89.8,95.0 C89.4,97.5 88.7,98.1 88.0,100.0 C87.3,101.9 86.2,104.8 85.5,106.2 C84.8,107.7 83.9,108.3 83.6,108.7" fill="none" stroke="#2a5ef0" stroke-width="1.25"/>
<path d="M96.3,20.3 C96.1,21.1 95.4,23.4 95.0,25.0 C94.6,26.6 94.2,28.2 93.9,30.0 C93.6,31.8 93.2,34.0 93.0,36.0 C92.8,38.0 92.6,40.0 92.4,42.0 C92.2,44.0 91.9,46.1 91.6,47.9 C91.3,49.6 90.8,50.8 90.5,52.5 C90.2,54.2 90.0,56.1 90.0,58.0 C90.0,59.9 90.2,61.6 90.5,64.0 C90.8,66.4 91.1,68.9 91.7,72.4 C92.3,75.9 93.3,81.5 94.2,84.8 C95.1,88.1 96.9,89.5 97.3,92.0 C97.7,94.5 97.4,96.6 96.7,100.0 C96.0,103.4 94.4,108.7 92.9,112.4 C91.5,116.1 89.5,119.9 88.0,122.4 C86.5,124.9 84.8,126.6 84.2,127.4" fill="none" stroke="#2a5ef0" stroke-width="1.25"/>
<path d="M99.6,19.6 C99.3,20.5 98.5,23.1 98.0,25.0 C97.5,26.9 97.0,28.8 96.6,31.0 C96.2,33.2 95.8,35.2 95.6,38.0 C95.4,40.8 94.9,43.9 95.4,47.5 C95.9,51.1 97.2,55.8 98.5,59.9 C99.8,64.0 102.0,68.2 103.0,72.4 C104.0,76.6 104.2,81.5 104.5,84.8 C104.8,88.1 104.8,89.0 104.8,92.0 C104.8,95.0 104.9,98.7 104.2,102.5 C103.5,106.3 102.1,111.2 100.4,114.9 C98.7,118.6 96.7,121.6 94.2,124.9 C91.7,128.2 87.3,132.9 85.5,134.8 C83.7,136.7 83.9,135.9 83.6,136.1" fill="none" stroke="#2a5ef0" stroke-width="1.25"/>
<path d="M103.5,19.2 C103.2,20.2 102.3,23.0 101.8,25.0 C101.3,27.0 100.7,28.8 100.3,31.0 C99.9,33.2 99.5,35.2 99.4,38.0 C99.3,40.8 99.1,43.9 99.8,47.5 C100.5,51.1 102.2,55.8 103.5,59.9 C104.8,64.0 106.6,68.2 107.9,72.4 C109.2,76.6 110.4,81.5 111.2,84.8 C112.0,88.1 112.3,88.7 112.6,92.0 C112.9,95.3 113.3,101.1 112.9,104.9 C112.5,108.7 111.9,111.6 110.4,114.9 C109.0,118.2 106.7,121.8 104.2,124.9 C101.7,128.0 98.1,130.7 95.4,133.6 C92.7,136.5 89.9,140.2 88.0,142.3 C86.1,144.4 84.8,145.4 84.2,146.0" fill="none" stroke="#2a5ef0" stroke-width="1.25"/>
<path d="M105.2,32.0 C104.7,32.0 103.6,31.1 102.4,31.9 C101.2,32.7 99.0,34.7 98.2,36.9 C97.4,39.1 97.5,43.8 97.4,45.2" fill="none" stroke="#2a5ef0" stroke-width="1.25"/>
<path d="M107.0,33.0 C107.5,33.8 109.1,36.4 110.0,38.0 C110.9,39.6 112.0,40.9 112.2,42.5 C112.4,44.1 111.1,45.6 111.0,47.5 C110.9,49.4 111.1,50.6 111.6,53.7 C112.1,56.8 113.0,61.9 114.1,66.1 C115.1,70.2 116.7,74.4 117.9,78.6 C119.2,82.8 120.6,87.0 121.6,91.0 C122.6,95.0 123.9,98.5 124.1,102.5 C124.3,106.5 123.8,110.8 122.8,114.9 C121.8,119.1 120.8,123.9 117.9,127.4 C115.0,130.9 109.4,133.4 105.4,136.1 C101.5,138.8 96.9,141.2 94.2,143.5 C91.5,145.8 90.5,147.9 89.2,150.0 C87.9,152.1 87.3,154.7 86.5,156.0 C85.7,157.3 84.8,157.7 84.5,158.0" fill="none" stroke="#2a5ef0" stroke-width="1.25"/>
<path d="M127.6,136.5 C126.2,137.6 121.5,140.8 119.0,143.0 C116.5,145.2 114.8,147.6 112.4,150.0 C110.1,152.4 107.0,155.4 104.9,157.5 C102.8,159.6 102.0,160.4 99.9,162.5 C97.8,164.6 94.6,167.8 92.5,169.9 C90.4,172.0 88.5,173.7 87.5,174.9 C86.5,176.2 86.4,177.0 86.2,177.4" fill="none" stroke="#2a5ef0" stroke-width="1.25"/>
<path d="M134.2,157.5 C132.4,158.7 127.0,162.2 123.6,164.9 C120.2,167.6 116.7,171.0 113.6,173.7 C110.5,176.4 107.2,179.0 104.9,181.1 C102.6,183.2 101.8,184.6 99.9,186.1 C98.0,187.6 94.7,189.3 93.7,189.9" fill="none" stroke="#2a5ef0" stroke-width="1.25"/>
<ellipse cx="124.8" cy="197.3" rx="10" ry="8.5" fill="none" stroke="#2a5ef0" stroke-width="0.9"/>
<ellipse cx="122.3" cy="197.9" rx="7.5" ry="5.6" fill="none" stroke="#ee2a2a" stroke-width="0.9"/>
<g transform="translate(-239.6,1.8) scale(1,1.005)">
<path d="M321.4,21.3 L323.5,20.8 L326.6,20.8 L330.7,19.3 L334.9,17.2 L338.0,16.1 L340.5,15.8 L342.5,17.1 L344.1,20.0 L345.4,23.3 L346.2,27.4 L347.4,30.8 L349.5,34.1 L352.4,37.4 L355.7,41.6 L359.1,45.7 L361.6,49.0 L364.0,53.2 L366.5,57.5 L368.0,62.0 L368.7,67.0 L368.7,72.0 L368.3,77.0 L367.9,85.9 L366.8,96.8 L365.7,107.7 L365.2,118.6 L365.3,124.1 L366.1,130.0 L367.6,135.5 L369.5,140.9 L373.2,151.8 L376.8,164.5 L380.5,177.3 L384.1,190.0 L388.6,204.5 L392.3,217.3 L394.3,227.3 L391.4,226.6 L389.0,225.6 L387.0,226.2 L385.9,225.2 L383.5,225.8 L380.5,224.4 L378.0,225.2 L375.0,224.8 L373.0,223.8 L371.4,224.2 L369.5,225.0 L367.7,224.8 L365.5,223.8 L363.5,224.6 L362.2,225.4 L361.0,223.2 L358.5,220.6 L356.0,217.8 L353.0,214.2 L349.8,211.6 L345.5,208.8 L341.5,206.4 L338.5,203.6 L336.3,200.2 L335.2,196.0 L334.2,191.9 L332.6,187.6 L331.1,183.6 L329.2,179.8 L327.0,177.3 L323.5,176.2 L319.7,175.3 L315.6,174.2 L316.5,168.0 L318.3,160.0 L319.7,152.0 L321.8,143.0 L323.2,131.0 L323.2,125.0 L322.9,112.3 L322.9,99.5 L323.2,86.8 L322.9,81.1 L321.0,78.5 L317.8,74.1 L314.6,67.7 L312.1,63.9 L307.6,62.4 L301.8,61.8 L296.8,60.1 L294.3,56.8 L295.1,50.2 L296.8,47.7 L292.6,46.0 L291.0,41.9 L291.8,36.9 L295.5,33.9 L300.1,33.6 L305.1,37.7 L305.9,41.9 L304.6,45.6 L306.8,48.5 L310.0,46.2 L313.1,43.1 L316.2,40.0 L319.3,36.9 L322.4,35.9 L324.5,32.7 L325.0,25.5 L325.6,23.4 L321.9,22.9 Z" fill="none" stroke="#111" stroke-width="1.3" stroke-linejoin="round"/>
<path d="M302.5,34.6 C302.9,35.1 304.5,36.5 305.1,37.7 C305.7,38.9 306.0,40.6 305.9,41.9 C305.8,43.2 305.5,44.6 304.6,45.6 C303.7,46.6 301.8,47.4 300.5,47.8 C299.2,48.1 298.0,47.9 296.8,47.7 C295.6,47.5 294.1,46.8 293.5,46.6" fill="none" stroke="#f02a3a" stroke-width="1.2"/>
</g>
<text x="77.2" y="51.0" font-size="4.85" font-weight="bold" fill="#222" class="lv">Shi Jingshan</text>
<text x="121.7" y="29.6" font-size="4.85" font-weight="bold" fill="#222" class="lv">Hai Dian</text>
<text x="153.8" y="50.8" font-size="4.85" font-weight="bold" fill="#222" class="lv">Beijing</text>
<text x="154.5" y="60.7" font-size="4.85" font-weight="bold" fill="#222" class="lv">Chao Yang</text>
<text x="212.1" y="56.7" font-size="4.85" font-weight="bold" fill="#222" class="lv">Tong Zhou</text>
<text x="109.2" y="77.1" font-size="4.85" font-weight="bold" fill="#222" class="lv">Feng Tai</text>
<text x="67.1" y="114.4" font-size="4.85" font-weight="bold" fill="#222" class="lv">Fang Shan</text>
<text x="123.4" y="121.3" font-size="4.85" font-weight="bold" fill="#222" class="lv">Da Xing</text>
<text x="159.0" y="14.5" font-size="3.2" font-weight="bold" fill="#333">Lai Guangying</text>
<text x="185.0" y="31.7" font-size="3.2" font-weight="bold" fill="#333">Dong Ba</text>
<text x="226.4" y="40.8" font-size="3.2" font-weight="bold" fill="#333">Zhang..</text>
<text x="164.5" y="96.0" font-size="3.2" font-weight="bold" fill="#333">Yi Zhuang</text>
<text x="183.4" y="110.7" font-size="3.2" font-weight="bold" fill="#333">Ma Ju Brige</text>
<text x="20.9" y="137.6" font-size="3.2" font-weight="bold" fill="#333">Cheng Guan</text>
<text x="14.6" y="163.0" font-size="3.2" font-weight="bold" fill="#333">Han Cunhe</text>
<text x="37.7" y="172.1" font-size="3.2" font-weight="bold" fill="#333">Liu Li River</text>
<text x="37.0" y="68.2" font-size="3.2" font-weight="bold" fill="#333">Tan Tuo Temple</text>
<text x="117.4" y="158.6" font-size="3.2" font-weight="bold" fill="#333">Pang Gezhuang</text>
<text x="83.7" y="163.6" font-size="3.2" font-weight="bold" fill="#333">Yao Shang</text>
<text x="117.4" y="198.4" font-size="3.2" font-weight="bold" fill="#333">Yu Dai Town</text>
<text x="83.5" y="85.2" font-size="3.2" font-weight="bold" fill="#333">Liang</text>
<text x="172.3" y="142" font-size="3.2" font-weight="bold" fill="#333">Qing Yundian</text>
<text x="204.6" y="150.2" font-size="3.2" font-weight="bold" fill="#333">Cai Yu</text>
<circle cx="171" cy="143.4" r="0.6" fill="none" stroke="#777" stroke-width="0.3"/>
<circle cx="202.9" cy="152.6" r="0.6" fill="none" stroke="#777" stroke-width="0.3"/>
<text x="216.1" y="22.7" font-size="10.3" font-weight="bold" fill="#111" textLength="6.9" lengthAdjust="spacingAndGlyphs">N</text>
<path d="M219.6,25.7 L212.6,48.7 L219.6,40 Z" fill="#111"/>
<path d="M219.6,25.7 L226.7,48.7 L219.6,40 Z" fill="#fff" stroke="#111" stroke-width="0.6"/>
<path d="M219.6,25.7 L212.6,48.7 L219.6,40 Z" fill="none" stroke="#111" stroke-width="0.6"/>
<rect x="19.4" y="227.2" width="26.7" height="2.6" fill="#000"/>
<rect x="46.099999999999994" y="227.4" width="26.4" height="2.2" fill="#fff" stroke="#000" stroke-width="0.5"/>
<text x="19.4" y="225.3" font-size="4.6" font-weight="bold" text-anchor="middle" fill="#111">0</text>
<text x="32.7" y="225.3" font-size="4.6" font-weight="bold" text-anchor="middle" fill="#111">4</text>
<text x="46.099999999999994" y="225.3" font-size="4.6" font-weight="bold" text-anchor="middle" fill="#111">8</text>
<text x="72.6" y="225.3" font-size="4.6" font-weight="bold" text-anchor="middle" fill="#111">16</text>
<text x="73.69999999999999" y="230.3" font-size="4.6" font-weight="bold" fill="#111">Km</text>
<rect x="166.5" y="199.7" width="64.3" height="31.2" fill="#fff" stroke="#555" stroke-width="0.6"/>
<text x="167.7" y="205.6" font-size="6.6" font-weight="bold" fill="#111" class="hv">Legend</text>
<line x1="167.3" y1="212.6" x2="179.3" y2="212.6" stroke="#ee2a2a" stroke-width="1.3"/>
<line x1="167.3" y1="220.3" x2="179.3" y2="220.3" stroke="#2a5ef0" stroke-width="1.3"/>
<line x1="167.3" y1="227.9" x2="179.3" y2="227.9" stroke="#333" stroke-width="1.6"/>
<text x="181.5" y="214.4" font-size="4.8" font-weight="bold" fill="#111" class="lv">Measured Flow Field</text>
<text x="181.5" y="222.1" font-size="4.8" font-weight="bold" fill="#111" class="lv">Simulated Flow Field</text>
<text x="181.5" y="229.7" font-size="4.8" font-weight="bold" fill="#111" class="lv">Model Boundary</text>
</g>
<text x="10.6" y="22.2" font-size="11.8" font-weight="bold" fill="#111" class="hv">(a)</text>
<rect x="247.5" y="7.5" width="229" height="229" fill="#fff" stroke="#8a8a8a" stroke-width="1.2" rx="1"/>
<g clip-path="url(#pc)">
<path d="M247.5,179.3 C248.2,179.3 250.7,179.3 252.0,179.2 C253.3,179.1 254.6,179.3 255.5,178.5 C256.4,177.7 256.7,175.7 257.2,174.5 C257.7,173.3 257.9,171.7 258.6,171.3 C259.3,170.9 260.3,171.4 261.4,172.0 C262.5,172.6 263.5,173.9 265.1,174.6 C266.7,175.3 268.7,175.9 271.0,176.3 C273.3,176.7 276.2,177.0 279.0,177.2 C281.8,177.4 285.2,177.4 287.5,177.6 C289.8,177.8 291.5,177.8 293.0,178.2 C294.5,178.6 295.5,179.4 296.5,179.8 C297.5,180.2 297.7,180.7 299.0,180.6 C300.3,180.5 302.5,180.3 304.3,179.5 C306.1,178.7 308.0,176.7 309.9,175.9 C311.8,175.1 314.6,174.8 315.5,174.6" fill="none" stroke="#c0c0c0" stroke-width="1.6"/>
<path d="M404.0,186.5 C403.5,186.6 402.5,186.5 400.9,187.2 C399.3,187.8 396.5,189.2 394.3,190.4 C392.1,191.6 389.9,193.2 387.7,194.6 C385.5,196.0 382.0,197.3 381.0,198.7 C380.0,200.1 381.2,201.6 381.5,203.0 C381.8,204.4 381.7,205.7 382.7,206.9 C383.7,208.1 386.5,209.9 387.7,210.3 C388.9,210.7 389.7,209.6 390.1,209.5" fill="none" stroke="#c0c0c0" stroke-width="1.6"/>
<path d="M300.0,12.0 L305.0,13.2 L308.7,15.1 L311.2,16.3 L312.5,19.5 L311.2,21.9 L307.5,24.4 L310.0,26.9 L313.7,28.2 L316.2,30.0 L318.0,33.0" fill="none" stroke="#9c9c9c" stroke-width="0.55"/>
<path d="M297.8,29.2 L299.1,25.4 L302.8,24.2 L308.0,25.4" fill="none" stroke="#9c9c9c" stroke-width="0.55"/>
<path d="M248.0,49.7 L250.0,51.5 L253.0,53.0 L256.0,52.0 L259.0,54.0" fill="none" stroke="#9c9c9c" stroke-width="0.55"/>
<path d="M248.0,55.3 L250.5,57.8 L251.7,60.3 L255.5,64.0 L258.0,66.5 L262.0,69.0 L266.0,70.5" fill="none" stroke="#9c9c9c" stroke-width="0.55"/>
<path d="M255.5,60.0 L256.7,62.5 L260.5,65.0 L263.0,65.0 L266.0,68.7 L266.7,73.7 L269.2,74.9 L275.4,75.6 L280.4,76.8 L284.1,78.7 L286.6,80.5 L288.5,82.4 L289.1,86.2 L289.7,91.1 L289.7,96.1 L291.0,98.6 L294.1,99.9 L297.2,101.1 L297.8,104.8 L300.3,106.1 L304.0,106.1 L310.0,106.1 L316.0,104.0 L322.0,100.0" fill="none" stroke="#9c9c9c" stroke-width="0.55"/>
<path d="M284.1,78.7 L284.1,72.5 L285.4,70.0 L289.1,68.7 L292.8,66.2 L296.0,65.5 L301.0,65.2" fill="none" stroke="#9c9c9c" stroke-width="0.55"/>
<path d="M365.0,11.7 L366.2,15.5 L370.0,20.5 L372.5,24.2 L373.7,29.2 L373.7,32.9 L371.2,33.5 L368.7,37.9 L365.6,41.0 L362.5,41.6 L360.0,42.2" fill="none" stroke="#9c9c9c" stroke-width="0.55"/>
<path d="M373.7,32.9 L376.2,34.2 L376.8,37.9 L377.4,45.4 L377.4,55.3 L376.8,62.8 L376.2,68.0 L378.0,70.0" fill="none" stroke="#9c9c9c" stroke-width="0.55"/>
<path d="M376.2,34.2 L381.2,33.5 L382.4,32.3 L386.2,34.2 L388.6,37.9 L391.8,40.4 L392.4,44.1 L389.9,47.9 L389.3,52.8 L389.9,57.8 L389.9,62.8 L391.1,68.0 L391.7,72.5" fill="none" stroke="#9c9c9c" stroke-width="0.55"/>
<path d="M378.0,60.0 L378.0,67.5 L371.7,70.0 L374.2,71.2 L376.7,72.5 L380.5,73.7 L382.9,70.0 L386.7,68.7 L390.4,69.3 L392.9,72.5 L396.6,73.7 L397.9,76.2 L394.2,78.7 L390.4,81.2 L386.7,83.0 L384.2,84.9 L381.7,87.4 L379.8,89.9 L384.2,90.5 L385.4,92.4 L387.9,94.9 L387.9,97.4 L385.4,98.6 L381.7,99.9 L378.0,101.1 L376.7,104.8 L375.5,107.3 L373.0,102.3 L370.5,99.9 L368.0,99.2" fill="none" stroke="#9c9c9c" stroke-width="0.55"/>
<path d="M390.4,81.2 L392.9,84.9 L396.6,88.6 L400.4,91.1 L404.1,90.5 L407.9,89.3 L409.1,84.9 L412.8,84.3 L417.8,86.2 L420.3,84.9 L424.0,85.5 L431.7,84.3 L436.7,82.4 L437.9,78.7 L441.7,73.7 L442.3,67.5 L442.9,60.0" fill="none" stroke="#9c9c9c" stroke-width="0.55"/>
<path d="M417.8,86.2 L418.4,92.4 L417.8,99.9 L417.8,107.3 L416.6,112.3" fill="none" stroke="#9c9c9c" stroke-width="0.55"/>
<path d="M428.5,8.0 L429.4,13.6 L433.0,12.5 L436.8,13.6 L441.8,18.6 L444.5,20.6 L447.0,25.7 L447.0,42.5 L443.8,54.0 L442.6,56.8 L442.9,60.0" fill="none" stroke="#9c9c9c" stroke-width="0.55"/>
<path d="M466.7,14.5 L470.0,13.5 L476.0,13.5" fill="none" stroke="#9c9c9c" stroke-width="0.55"/>
<path d="M248.0,137.9 L253.0,136.1 L257.3,133.6 L258.0,129.8 L256.7,128.0 L256.1,126.1 L258.0,125.5 L261.7,127.3 L264.2,129.8 L266.1,130.5 L266.7,126.7 L266.7,121.7 L266.7,120.0 L267.9,109.8 L268.5,101.1 L269.8,98.6 L271.7,99.2 L272.9,102.3 L275.4,107.3 L277.9,112.3 L280.4,116.7 L282.9,116.7 L284.7,113.5 L286.0,109.8 L287.9,106.7 L290.3,105.5 L295.3,105.5 L300.3,106.1 L304.0,106.1 L305.3,103.6 L304.0,98.6 L300.3,96.1 L296.6,93.6 L294.7,90.5 L295.9,88.6 L297.8,88.0 L300.3,85.5 L302.8,86.2 L305.3,88.0 L308.0,89.9 L313.4,92.4 L318.4,93.3 L320.0,90.0 L320.9,83.3" fill="none" stroke="#f08a7a" stroke-width="0.6"/>
<path d="M306.8,8.2 L310.0,10.1 L312.5,10.7 L314.9,9.5 L315.6,7.6" fill="none" stroke="#f08a7a" stroke-width="0.6"/>
<path d="M324.9,8.2 L325.5,10.7 L326.8,12.6 L329.9,13.2 L331.8,11.4 L332.1,8.2" fill="none" stroke="#f08a7a" stroke-width="0.6"/>
<path d="M309.0,63.5 L311.0,66.0 L310.5,70.0" fill="none" stroke="#f08a7a" stroke-width="0.6"/>
<path d="M248.0,16.7 C248.6,17.2 250.4,18.6 251.7,19.8 C252.9,21.0 254.0,22.5 255.5,23.6 C257.0,24.8 259.3,25.9 260.5,26.7 C261.7,27.5 262.6,27.8 262.9,28.5 C263.2,29.2 261.9,30.5 262.3,31.0 C262.7,31.5 264.2,31.8 265.4,31.7 C266.5,31.6 268.3,31.0 269.2,30.4 C270.1,29.8 270.7,28.9 271.0,27.9 C271.3,26.9 270.7,25.2 271.0,24.2 C271.3,23.2 272.5,22.5 272.9,21.7 C273.3,20.9 273.2,19.7 273.5,19.2 C273.8,18.7 274.5,18.3 274.8,18.6 C275.1,18.9 275.4,20.0 275.4,21.1 C275.4,22.2 274.8,23.9 274.8,25.4 C274.8,26.8 274.8,28.9 275.4,29.8 C276.0,30.7 277.5,30.9 278.5,31.0 C279.5,31.1 280.7,31.0 281.6,30.4 C282.5,29.8 283.4,28.6 284.1,27.3 C284.8,26.1 285.5,24.1 286.0,22.9 C286.5,21.6 286.7,20.3 287.2,19.8 C287.7,19.3 288.6,19.3 289.1,19.8 C289.6,20.3 290.0,21.5 290.3,22.9 C290.6,24.2 290.7,26.2 291.0,27.9 C291.3,29.6 291.7,31.5 292.2,32.9 C292.7,34.2 293.8,35.5 294.1,36.0" fill="none" stroke="#56c7f0" stroke-width="0.6"/>
<path d="M272.9,42.9 C273.1,43.3 273.4,44.8 274.2,45.4 C275.0,46.0 276.4,46.5 277.9,46.6 C279.3,46.7 281.4,46.4 282.9,46.0 C284.3,45.6 285.6,44.6 286.6,44.1 C287.6,43.6 288.2,43.3 289.1,42.9 C290.0,42.5 291.7,41.8 292.2,41.6" fill="none" stroke="#56c7f0" stroke-width="0.6"/>
<path d="M305.9,42.9 C306.2,43.1 307.3,43.8 308.0,44.1 C308.7,44.5 309.7,44.9 310.0,45.0" fill="none" stroke="#56c7f0" stroke-width="0.6"/>
<path d="M341.1,8.0 L341.3,15.1" fill="none" stroke="#56c7f0" stroke-width="0.6"/>
<path d="M361.2,11.7 C361.8,11.7 363.3,11.9 365.0,11.7 C366.7,11.5 369.5,10.8 371.2,10.5 C372.9,10.2 373.6,10.2 375.0,9.9 C376.4,9.6 379.1,8.8 379.9,8.6" fill="none" stroke="#56c7f0" stroke-width="0.6"/>
<path d="M388.6,57.8 C389.2,57.8 390.8,57.9 392.4,57.8 C394.0,57.7 395.1,57.4 398.0,57.2 C400.9,57.0 406.3,56.9 410.0,56.8 C413.7,56.7 416.9,56.9 420.2,56.8 C423.5,56.7 426.7,56.5 430.0,56.2 C433.3,55.9 437.5,55.6 440.2,55.1 C442.9,54.6 444.4,54.2 446.0,53.5 C447.6,52.8 449.4,51.4 450.1,51.0" fill="none" stroke="#56c7f0" stroke-width="0.6"/>
<path d="M392.4,65.3 C393.2,65.3 394.9,65.4 397.4,65.5 C399.9,65.6 405.2,65.8 407.3,65.9 C409.4,66.0 409.6,66.0 410.0,66.0" fill="none" stroke="#56c7f0" stroke-width="0.6"/>
<path d="M391.7,60.0 C391.8,60.4 392.3,61.7 392.3,62.5 C392.3,63.3 391.2,64.5 391.7,65.0 C392.2,65.5 393.9,65.4 395.4,65.6 C396.8,65.8 398.7,65.9 400.4,66.0 C402.1,66.1 404.3,66.0 405.4,66.2 C406.5,66.5 406.9,67.3 407.2,67.5" fill="none" stroke="#56c7f0" stroke-width="0.6"/>
<path d="M450.1,8.0 C450.2,9.2 450.6,12.2 450.9,15.3 C451.2,18.4 451.6,22.8 451.8,26.9 C452.0,31.0 452.1,36.9 451.8,40.2 C451.5,43.5 449.8,45.3 450.1,46.8 C450.4,48.3 451.8,48.5 453.4,49.3 C455.0,50.1 457.8,50.5 460.0,51.8 C462.2,53.0 464.0,54.9 466.7,56.8 C469.4,58.7 474.4,62.3 476.0,63.4" fill="none" stroke="#56c7f0" stroke-width="0.6"/>
<path d="M421.9,56.8 C422.0,57.3 422.2,58.6 422.4,60.0 C422.6,61.4 422.5,63.5 423.0,65.0 C423.5,66.5 424.9,67.5 425.5,68.7 C426.1,70.0 426.5,69.8 426.7,72.5 C426.9,75.2 426.6,80.8 426.7,84.9 C426.8,89.1 427.1,94.1 427.3,97.4 C427.5,100.7 427.9,103.6 428.0,104.8" fill="none" stroke="#56c7f0" stroke-width="0.6"/>
<path d="M464.1,60.0 C464.5,60.4 465.4,62.0 466.6,62.5 C467.8,63.0 470.1,62.7 471.5,63.1 C472.9,63.5 474.4,64.5 475.3,65.0 C476.2,65.5 476.7,65.8 477.0,66.0" fill="none" stroke="#56c7f0" stroke-width="0.6"/>
<path d="M470.0,22.0 C469.7,23.0 468.6,26.1 468.0,28.0 C467.4,29.9 468.0,32.1 466.7,33.6 C465.4,35.1 461.8,36.1 460.0,37.0 C458.2,37.9 456.7,38.7 456.0,39.0" fill="none" stroke="#56c7f0" stroke-width="0.6"/>
<path d="M427.6,7.5 C427.8,8.3 428.5,10.8 429.0,12.5 C429.5,14.2 429.7,16.3 430.5,17.5 C431.3,18.7 432.8,19.5 434.0,19.5 C435.2,19.5 436.5,18.2 437.5,17.5 C438.5,16.8 439.6,15.8 440.0,15.5" fill="none" stroke="#56c7f0" stroke-width="0.6"/>
<path d="M368.0,70.6 C368.4,70.9 369.5,71.8 370.5,72.5 C371.5,73.2 372.8,73.7 374.2,74.9 C375.6,76.1 377.5,78.7 379.2,79.9 C380.9,81.2 382.8,81.9 384.2,82.4 C385.6,82.9 386.4,82.4 387.9,83.0 C389.3,83.6 391.4,85.0 392.9,86.2 C394.3,87.4 395.8,88.7 396.6,89.9 C397.4,91.1 397.1,92.1 397.9,93.6 C398.7,95.0 400.4,97.1 401.6,98.6 C402.9,100.0 403.9,101.3 405.4,102.3 C406.8,103.3 408.9,104.0 410.3,104.8 C411.8,105.6 412.9,106.5 414.1,107.3 C415.4,108.1 416.6,109.6 417.8,109.8 C419.0,110.0 420.2,109.0 421.5,108.6 C422.8,108.2 423.8,107.9 425.3,107.3 C426.8,106.7 428.4,105.3 430.5,104.8 C432.6,104.3 435.4,104.4 437.9,104.2 C440.4,104.0 443.7,104.1 445.4,103.6 C447.1,103.1 447.3,102.1 447.9,101.1 C448.5,100.1 448.3,98.9 449.1,97.4 C449.9,96.0 451.4,94.1 452.9,92.4 C454.4,90.7 456.2,89.1 457.9,87.4 C459.5,85.7 461.6,83.8 462.8,82.4 C464.0,81.1 464.2,79.5 465.3,79.3 C466.4,79.1 467.9,80.5 469.1,81.2 C470.4,81.9 471.6,82.9 472.8,83.7 C474.0,84.5 475.9,85.8 476.5,86.2" fill="none" stroke="#56c7f0" stroke-width="0.6"/>
<path d="M417.8,109.8 C417.6,110.4 417.0,112.5 416.6,113.5 C416.2,114.5 415.7,115.6 415.5,116.0" fill="none" stroke="#56c7f0" stroke-width="0.6"/>
<path d="M418.0,111.1 L423.0,108.0" fill="none" stroke="#56c7f0" stroke-width="0.6"/>
<path d="M471.5,114.8 C472.1,114.2 474.4,111.9 475.3,111.1 C476.2,110.3 476.7,110.2 477.0,110.0" fill="none" stroke="#56c7f0" stroke-width="0.6"/>
<path d="M367.0,124.0 C369.8,123.9 378.1,123.9 383.6,123.5 C389.1,123.1 396.8,121.9 400.2,121.5 C403.6,121.1 403.4,121.1 404.0,121.0" fill="none" stroke="#56c7f0" stroke-width="0.6"/>
<path d="M367.0,134.0 C367.6,134.1 368.4,133.8 370.3,134.8 C372.2,135.8 375.8,138.4 378.6,139.8 C381.4,141.2 384.1,142.0 386.9,143.1 C389.7,144.2 393.0,145.3 395.2,146.4 C397.4,147.5 398.7,148.6 400.2,149.7 C401.7,150.8 403.4,152.4 404.0,153.0" fill="none" stroke="#56c7f0" stroke-width="0.6"/>
<path d="M373.6,144.7 C374.7,145.5 377.8,148.3 380.3,149.7 C382.8,151.1 385.8,151.9 388.6,153.0 C391.4,154.1 394.4,155.2 397.0,156.0 C399.6,156.8 402.8,157.7 404.0,158.0" fill="none" stroke="#56c7f0" stroke-width="0.6"/>
<path d="M248.0,86.8 C248.4,86.6 249.6,85.6 250.5,85.5 C251.4,85.4 252.8,85.8 253.6,86.2 C254.4,86.6 254.8,87.9 255.5,88.0 C256.2,88.1 257.4,86.7 258.0,86.8 C258.6,86.9 258.9,87.7 259.2,88.6 C259.5,89.5 259.2,91.2 259.8,92.4 C260.4,93.7 261.9,95.2 262.9,96.1 C263.9,97.0 265.1,97.4 266.0,98.0 C266.9,98.6 267.9,99.0 268.5,99.9 C269.1,100.8 269.5,101.9 269.8,103.6 C270.1,105.2 270.4,107.9 270.4,109.8 C270.4,111.7 269.9,113.1 269.8,114.8 C269.7,116.5 269.7,118.2 269.8,120.0 C269.9,121.8 269.9,123.1 270.4,125.5 C270.9,127.9 272.4,131.7 272.9,134.2 C273.4,136.7 272.8,138.7 273.5,140.4 C274.2,142.1 276.6,142.8 277.3,144.2 C278.0,145.6 278.2,147.4 277.9,149.1 C277.6,150.8 276.3,152.4 275.4,154.1 C274.5,155.8 273.2,157.4 272.3,159.1 C271.4,160.8 270.3,163.1 269.8,164.1 C269.3,165.1 269.1,164.8 269.2,165.3 C269.3,165.8 269.5,166.9 270.4,167.2 C271.3,167.5 273.4,167.4 274.8,167.2 C276.2,167.0 277.6,166.1 279.1,166.0 C280.7,165.9 282.6,166.6 284.1,166.6 C285.6,166.6 286.8,165.7 287.9,165.9 C289.0,166.1 290.3,166.9 291.0,167.8 C291.7,168.7 291.7,170.2 292.2,171.5 C292.7,172.8 293.2,174.2 294.1,175.3 C295.0,176.4 297.2,177.6 297.8,178.0" fill="none" stroke="#56c7f0" stroke-width="0.6"/>
<path d="M248.0,169.1 C248.6,169.2 250.0,169.5 251.7,169.7 C253.4,169.9 256.1,170.2 258.0,170.3 C259.9,170.4 261.3,170.5 262.9,170.3 C264.4,170.1 266.2,169.9 267.3,169.1 C268.4,168.3 268.9,165.9 269.2,165.3" fill="none" stroke="#56c7f0" stroke-width="0.6"/>
<path d="M286.6,93.6 C287.0,93.8 288.7,94.4 289.1,95.0 C289.5,95.6 289.4,96.7 289.1,97.4 C288.8,98.1 287.9,99.1 287.5,99.0 C287.1,98.9 286.7,97.3 286.5,97.0" fill="none" stroke="#56c7f0" stroke-width="0.6"/>
<path d="M287.9,103.6 C288.7,104.6 291.1,107.9 292.8,109.8 C294.5,111.7 296.6,113.3 297.8,114.8 C299.1,116.2 299.7,117.3 300.3,118.5 C300.9,119.7 300.5,120.5 301.5,121.7 C302.5,122.9 305.1,124.5 306.5,125.5 C307.9,126.5 308.9,126.7 310.0,128.0 C311.1,129.3 312.6,130.6 313.4,133.1 C314.2,135.6 314.4,139.4 315.0,143.0 C315.6,146.6 317.0,152.2 316.7,154.7 C316.4,157.2 314.1,156.8 313.4,158.0 C312.7,159.2 313.2,159.9 312.6,161.6 C312.1,163.3 310.5,166.4 310.1,168.3 C309.7,170.2 310.5,172.0 310.1,173.3 C309.8,174.6 308.4,175.6 308.0,176.0" fill="none" stroke="#56c7f0" stroke-width="0.6"/>
<path d="M301.5,84.9 C301.8,85.4 302.4,86.5 303.0,88.0 C303.6,89.5 304.7,91.6 305.3,93.6 C305.9,95.6 305.7,98.7 306.5,99.9 C307.3,101.1 308.3,101.3 310.0,101.0 C311.7,100.7 315.0,99.5 316.7,98.3 C318.4,97.1 319.4,94.7 320.0,94.0" fill="none" stroke="#56c7f0" stroke-width="0.6"/>
<path d="M305.3,178.0 C305.5,177.6 306.1,176.0 306.5,175.3 C306.9,174.6 307.8,174.2 308.0,174.0" fill="none" stroke="#56c7f0" stroke-width="0.6"/>
<path d="M284,96 L286.5,93 L289,93.5 L289.5,97 L288,100.5 L285,101.5 L283.5,99.5 Z" fill="#8fdcf5" stroke="#56c7f0" stroke-width="0.4"/>
<circle cx="359.4" cy="30.2" r="1.6" fill="#d8d8d8" stroke="#c0c0c0" stroke-width="0.3"/>
<circle cx="391.8" cy="51.6" r="1.6" fill="#d8d8d8" stroke="#c0c0c0" stroke-width="0.3"/>
<circle cx="393.4" cy="61.8" r="1.6" fill="#d8d8d8" stroke="#c0c0c0" stroke-width="0.3"/>
<circle cx="451" cy="56.8" r="1.6" fill="#d8d8d8" stroke="#c0c0c0" stroke-width="0.3"/>
<circle cx="304.3" cy="114.9" r="1.6" fill="#d8d8d8" stroke="#c0c0c0" stroke-width="0.3"/>
<circle cx="361.5" cy="124" r="1.6" fill="#d8d8d8" stroke="#c0c0c0" stroke-width="0.3"/>
<circle cx="423.6" cy="30.5" r="0.6" fill="none" stroke="#777" stroke-width="0.3"/>
<circle cx="398.6" cy="12.5" r="0.6" fill="none" stroke="#777" stroke-width="0.3"/>
<circle cx="465" cy="40" r="0.6" fill="none" stroke="#777" stroke-width="0.3"/>
<circle cx="402.9" cy="95.1" r="0.6" fill="none" stroke="#777" stroke-width="0.3"/>
<circle cx="421.7" cy="109.8" r="0.6" fill="none" stroke="#777" stroke-width="0.3"/>
<circle cx="259.5" cy="136.7" r="0.6" fill="none" stroke="#777" stroke-width="0.3"/>
<circle cx="253" cy="161.8" r="0.6" fill="none" stroke="#777" stroke-width="0.3"/>
<circle cx="276" cy="170.9" r="0.6" fill="none" stroke="#777" stroke-width="0.3"/>
<circle cx="275" cy="67" r="0.6" fill="none" stroke="#777" stroke-width="0.3"/>
<circle cx="356.5" cy="158" r="0.6" fill="none" stroke="#777" stroke-width="0.3"/>
<circle cx="322.5" cy="164" r="0.6" fill="none" stroke="#777" stroke-width="0.3"/>
<circle cx="349.5" cy="198" r="0.6" fill="none" stroke="#777" stroke-width="0.3"/>
<text x="267.2" y="40.6" font-size="4.85" font-weight="bold" fill="#222" class="lv">Men Tougou</text>
<g clip-path="url(#bclip)">
<rect x="280" y="10" width="130" height="230" fill="#a6d63a"/>
<path d="M285.0,30.0 L310.0,30.0 L310.0,55.0 L285.0,55.0 Z" fill="#f8e150"/>
<path d="M318.0,14.0 L350.0,14.0 L349.0,24.5 L336.0,25.5 L325.6,26.5 L318.0,27.0 Z" fill="#f9c022"/>
<path d="M318.0,18.0 L326.0,18.0 L327.6,22.0 L326.0,26.5 L323.0,27.0 Z" fill="#f6a90a"/>
<path d="M318.0,26.5 L325.6,26.5 L336.0,25.5 L346.3,23.4 L352.0,33.8 L346.3,33.8 L336.0,35.3 L325.6,35.9 L318.0,36.0 Z" fill="#fad943"/>
<path d="M300.0,58.0 L315.0,58.6 L328.6,62.4 L337.4,58.6 L341.1,61.1 L344.8,70.0 L349.0,76.0 L351.1,80.0 L352.2,95.6 L353.0,109.2 L345.0,115.3 L324.5,129.2 L300.0,129.0 Z" fill="#7cc01e"/>
<path d="M310.0,48.7 L316.2,45.0 L322.0,41.0 L327.4,38.7 L333.6,42.5 L336.1,48.7 L337.4,54.9 L334.9,59.9 L328.6,61.8 L322.4,59.3 L314.9,54.9 L310.0,51.2 Z" fill="#cae35e"/>
<path d="M322.4,35.4 L326.6,35.2 L326.2,38.8 L321.5,40.0 L318.0,42.5 L314.5,45.5 L311.5,48.0 L309.5,47.0 Z" fill="#f6a90a"/>
<path d="M290.0,46.3 L300.0,47.4 L308.9,48.5 L314.9,54.9 L318.7,59.9 L313.2,61.5 L301.6,62.5 L290.0,62.5 Z" fill="#5aa91b"/>
<path d="M315.0,129.2 L324.5,129.2 L336.8,123.4 L334.6,130.0 L333.0,145.0 L331.5,159.0 L318.0,166.3 L315.0,166.5 Z" fill="#c4e24a"/>
<path d="M336.8,123.4 L345.0,115.3 L353.7,108.8 L366.0,99.5 L372.0,99.0 L372.0,131.0 L368.0,133.0 L364.7,133.1 L349.1,144.5 L331.5,159.0 L333.0,145.0 L334.6,130.0 Z" fill="#e9ef6c"/>
<path d="M310.0,166.5 L318.0,166.3 L331.5,159.0 L349.1,144.5 L364.7,133.1 L368.0,133.0 L372.0,131.0 L400.0,140.0 L400.0,232.0 L310.0,232.0 Z" fill="#f6e950"/>
<path d="M337.5,53.0 C337.8,55.5 338.6,63.5 339.0,68.0 C339.4,72.5 339.6,74.7 339.7,80.0 C339.8,85.3 339.9,94.2 339.5,100.0 C339.1,105.8 338.1,110.3 337.0,115.0 C335.9,119.7 333.7,125.8 333.0,128.0" fill="none" stroke="#a0a080" stroke-width="0.5"/>
<path d="M355.5,45.0 C355.5,47.5 355.6,55.0 355.5,60.0 C355.4,65.0 355.2,70.0 355.0,75.0 C354.8,80.0 354.1,85.2 354.0,90.0 C353.9,94.8 354.6,99.3 354.5,104.0 C354.4,108.7 353.5,113.7 353.5,118.0 C353.5,122.3 354.5,125.5 354.5,130.0 C354.5,134.5 353.6,139.2 353.5,145.0 C353.4,150.8 354.2,158.3 354.0,165.0 C353.8,171.7 352.7,178.3 352.5,185.0 C352.3,191.7 353.0,198.2 353.0,205.0 C353.0,211.8 352.6,222.5 352.5,226.0" fill="none" stroke="#a0a080" stroke-width="0.5"/>
<path d="M333.0,128.0 C332.7,130.0 331.6,135.5 331.0,140.0 C330.4,144.5 329.8,150.7 329.5,155.0 C329.2,159.3 329.1,161.2 329.3,166.0 C329.5,170.8 329.9,179.2 330.5,184.0 C331.1,188.8 331.8,191.8 333.0,195.0 C334.2,198.2 337.2,201.7 338.0,203.0" fill="none" stroke="#a0a080" stroke-width="0.5"/>
<path d="M330.5,190.0 C331.4,190.7 333.6,193.5 336.0,194.0 C338.4,194.5 342.5,193.4 345.0,193.0 C347.5,192.6 347.9,192.5 351.0,191.6 C354.1,190.7 359.0,189.9 363.6,187.8 C368.2,185.7 375.2,180.9 378.9,178.9 C382.6,176.9 384.8,176.5 386.0,176.0" fill="none" stroke="#a0a080" stroke-width="0.5"/>
<path d="M338.2,199.2 C340.2,199.2 345.3,199.1 350.0,199.5 C354.7,199.9 361.9,200.7 366.2,201.8 C370.5,202.9 373.0,204.3 376.0,206.0 C379.0,207.7 381.3,210.3 384.0,212.0 C386.7,213.7 390.7,215.3 392.0,216.0" fill="none" stroke="#a0a080" stroke-width="0.5"/>
<path d="M346.0,208.0 C347.0,208.8 349.9,211.5 352.0,213.0 C354.1,214.5 355.5,216.3 358.5,217.1 C361.5,217.9 365.8,217.6 370.0,218.0 C374.2,218.4 380.2,219.1 384.0,219.6 C387.8,220.1 391.5,220.8 393.0,221.0" fill="none" stroke="#a0a080" stroke-width="0.5"/>
</g>
<path d="M321.4,21.3 L323.5,20.8 L326.6,20.8 L330.7,19.3 L334.9,17.2 L338.0,16.1 L340.5,15.8 L342.5,17.1 L344.1,20.0 L345.4,23.3 L346.2,27.4 L347.4,30.8 L349.5,34.1 L352.4,37.4 L355.7,41.6 L359.1,45.7 L361.6,49.0 L364.0,53.2 L366.5,57.5 L368.0,62.0 L368.7,67.0 L368.7,72.0 L368.3,77.0 L367.9,85.9 L366.8,96.8 L365.7,107.7 L365.2,118.6 L365.3,124.1 L366.1,130.0 L367.6,135.5 L369.5,140.9 L373.2,151.8 L376.8,164.5 L380.5,177.3 L384.1,190.0 L388.6,204.5 L392.3,217.3 L394.3,227.3 L391.4,226.6 L389.0,225.6 L387.0,226.2 L385.9,225.2 L383.5,225.8 L380.5,224.4 L378.0,225.2 L375.0,224.8 L373.0,223.8 L371.4,224.2 L369.5,225.0 L367.7,224.8 L365.5,223.8 L363.5,224.6 L362.2,225.4 L361.0,223.2 L358.5,220.6 L356.0,217.8 L353.0,214.2 L349.8,211.6 L345.5,208.8 L341.5,206.4 L338.5,203.6 L336.3,200.2 L335.2,196.0 L334.2,191.9 L332.6,187.6 L331.1,183.6 L329.2,179.8 L327.0,177.3 L323.5,176.2 L319.7,175.3 L315.6,174.2 L316.5,168.0 L318.3,160.0 L319.7,152.0 L321.8,143.0 L323.2,131.0 L323.2,125.0 L322.9,112.3 L322.9,99.5 L323.2,86.8 L322.9,81.1 L321.0,78.5 L317.8,74.1 L314.6,67.7 L312.1,63.9 L307.6,62.4 L301.8,61.8 L296.8,60.1 L294.3,56.8 L295.1,50.2 L296.8,47.7 L292.6,46.0 L291.0,41.9 L291.8,36.9 L295.5,33.9 L300.1,33.6 L305.1,37.7 L305.9,41.9 L304.6,45.6 L306.8,48.5 L310.0,46.2 L313.1,43.1 L316.2,40.0 L319.3,36.9 L322.4,35.9 L324.5,32.7 L325.0,25.5 L325.6,23.4 L321.9,22.9 Z" fill="none" stroke="#111" stroke-width="1.3" stroke-linejoin="round"/>
<text x="337.5" y="25" font-size="5" font-family="Liberation Serif" text-anchor="middle" fill="#1a1a1a">15</text>
<text x="337.5" y="32.3" font-size="5" font-family="Liberation Serif" text-anchor="middle" fill="#1a1a1a">20</text>
<text x="298.6" y="42.6" font-size="5" font-family="Liberation Serif" text-anchor="middle" fill="#1a1a1a">20</text>
<text x="322.4" y="51.5" font-size="5" font-family="Liberation Serif" text-anchor="middle" fill="#1a1a1a">50</text>
<text x="347.3" y="52" font-size="5" font-family="Liberation Serif" text-anchor="middle" fill="#1a1a1a">100</text>
<text x="304.3" y="57.6" font-size="5" font-family="Liberation Serif" text-anchor="middle" fill="#1a1a1a">150</text>
<text x="360.2" y="78.2" font-size="5" font-family="Liberation Serif" text-anchor="middle" fill="#1a1a1a">100</text>
<text x="346" y="88.9" font-size="5" font-family="Liberation Serif" text-anchor="middle" fill="#1a1a1a">110</text>
<text x="331.4" y="94.1" font-size="5" font-family="Liberation Serif" text-anchor="middle" fill="#1a1a1a">110</text>
<text x="358" y="123.8" font-size="5" font-family="Liberation Serif" text-anchor="middle" fill="#1a1a1a">60</text>
<text x="342.5" y="137.3" font-size="5" font-family="Liberation Serif" text-anchor="middle" fill="#1a1a1a">60</text>
<text x="326" y="146.6" font-size="5" font-family="Liberation Serif" text-anchor="middle" fill="#1a1a1a">50</text>
<text x="321.8" y="173.8" font-size="5" font-family="Liberation Serif" text-anchor="middle" fill="#1a1a1a">30</text>
<text x="342.5" y="174.8" font-size="5" font-family="Liberation Serif" text-anchor="middle" fill="#1a1a1a">30</text>
<text x="363.3" y="165.5" font-size="5" font-family="Liberation Serif" text-anchor="middle" fill="#1a1a1a">30</text>
<text x="371.6" y="195.6" font-size="5" font-family="Liberation Serif" text-anchor="middle" fill="#1a1a1a">30</text>
<text x="365.4" y="211.1" font-size="5" font-family="Liberation Serif" text-anchor="middle" fill="#1a1a1a">30</text>
<text x="368.5" y="222.5" font-size="5" font-family="Liberation Serif" text-anchor="middle" fill="#1a1a1a">30</text>
<text x="326.9" y="25.2" font-size="5" font-family="Liberation Serif" text-anchor="middle" fill="#1a1a1a">10</text>
<text x="316.1" y="45.5" font-size="4.85" font-weight="bold" fill="#222" class="lv">Shi Jingshan</text>
<text x="361.1" y="27.5" font-size="4.85" font-weight="bold" fill="#222" class="lv">Hai Dian</text>
<text x="393.4" y="48.5" font-size="4.85" font-weight="bold" fill="#222" class="lv">Beijing</text>
<text x="395" y="58.5" font-size="4.85" font-weight="bold" fill="#222" class="lv">Chao Yang</text>
<text x="452.6" y="54.5" font-size="4.85" font-weight="bold" fill="#222" class="lv">Tong Zhou</text>
<text x="336.3" y="75.2" font-size="4.85" font-weight="bold" fill="#222" class="lv">Feng Tai</text>
<text x="306.3" y="112" font-size="4.85" font-weight="bold" fill="#222" class="lv">Fang Shan</text>
<text x="362.5" y="119.3" font-size="4.85" font-weight="bold" fill="#222" class="lv">Da Xing</text>
<text x="398.6" y="12.6" font-size="3.2" font-weight="bold" fill="#333">Lai Guangying</text>
<text x="424.6" y="29.8" font-size="3.2" font-weight="bold" fill="#333">Dong Ba</text>
<text x="466" y="38.8" font-size="3.2" font-weight="bold" fill="#333">Zhang..</text>
<text x="404.1" y="93.7" font-size="3.2" font-weight="bold" fill="#333">Yi Zhuang</text>
<text x="423" y="108.4" font-size="3.2" font-weight="bold" fill="#333">Ma Ju Brige</text>
<text x="260.5" y="135.1" font-size="3.2" font-weight="bold" fill="#333">Cheng Guan</text>
<text x="254.2" y="160.4" font-size="3.2" font-weight="bold" fill="#333">Han Cunhe</text>
<text x="277.3" y="169.5" font-size="3.2" font-weight="bold" fill="#333">Liu Li River</text>
<text x="276.6" y="66.1" font-size="3.2" font-weight="bold" fill="#333">Tan Tuo Temple</text>
<text x="357" y="156.2" font-size="3.2" font-weight="bold" fill="#333">Pang Gezhuang</text>
<text x="322.8" y="161.8" font-size="3.2" font-weight="bold" fill="#333">Yao Shang</text>
<text x="350.8" y="195.8" font-size="3.2" font-weight="bold" fill="#333">Yu Dai Town</text>
<text x="323.1" y="83" font-size="3.2" font-weight="bold" fill="#333">Liang</text>
<text x="456.1" y="22.7" font-size="10.3" font-weight="bold" fill="#111" textLength="6.9" lengthAdjust="spacingAndGlyphs">N</text>
<path d="M459.6,25.7 L452.6,48.7 L459.6,40 Z" fill="#111"/>
<path d="M459.6,25.7 L466.7,48.7 L459.6,40 Z" fill="#fff" stroke="#111" stroke-width="0.6"/>
<path d="M459.6,25.7 L452.6,48.7 L459.6,40 Z" fill="none" stroke="#111" stroke-width="0.6"/>
<rect x="259.4" y="227.2" width="26.7" height="2.6" fill="#000"/>
<rect x="286.09999999999997" y="227.4" width="26.4" height="2.2" fill="#fff" stroke="#000" stroke-width="0.5"/>
<text x="259.4" y="225.3" font-size="4.6" font-weight="bold" text-anchor="middle" fill="#111">0</text>
<text x="272.7" y="225.3" font-size="4.6" font-weight="bold" text-anchor="middle" fill="#111">4</text>
<text x="286.09999999999997" y="225.3" font-size="4.6" font-weight="bold" text-anchor="middle" fill="#111">8</text>
<text x="312.59999999999997" y="225.3" font-size="4.6" font-weight="bold" text-anchor="middle" fill="#111">16</text>
<text x="313.7" y="230.3" font-size="4.6" font-weight="bold" fill="#111">Km</text>
<rect x="403.6" y="115.3" width="66.4" height="115.5" fill="#fff" stroke="#555" stroke-width="0.6"/>
<text x="404.8" y="121.6" font-size="6.3" font-weight="bold" fill="#111" class="hv">Legend</text>
<line x1="404.8" y1="129.6" x2="415.9" y2="129.6" stroke="#333" stroke-width="1.6"/>
<text x="418.3" y="131.4" font-size="4.7" font-weight="bold" fill="#111" class="lv">Model Boundary</text>
<text x="404.8" y="141.1" font-size="5.6" font-weight="bold" fill="#111" class="hv">Horizontal Hydraulic</text>
<text x="404.8" y="147.4" font-size="5.6" font-weight="bold" fill="#111" class="hv">Conductivity</text>
<text x="404.8" y="155.4" font-size="4.8" font-weight="bold" fill="#111" class="lv">Values</text>
<rect x="404.7" y="159.4" width="11.4" height="5.3" fill="#f7a800"/>
<text x="418.6" y="164.0" font-size="5.2" font-weight="bold" fill="#111" class="lv">10</text>
<rect x="404.7" y="167.6" width="11.4" height="5.3" fill="#f9bf20"/>
<text x="418.6" y="172.2" font-size="5.2" font-weight="bold" fill="#111" class="lv">15</text>
<rect x="404.7" y="175.8" width="11.4" height="5.3" fill="#fad843"/>
<text x="418.6" y="180.4" font-size="5.2" font-weight="bold" fill="#111" class="lv">20</text>
<rect x="404.7" y="184.0" width="11.4" height="5.3" fill="#fbe95e"/>
<text x="418.6" y="188.6" font-size="5.2" font-weight="bold" fill="#111" class="lv">30</text>
<rect x="404.7" y="192.2" width="11.4" height="5.3" fill="#eff27c"/>
<text x="418.6" y="196.8" font-size="5.2" font-weight="bold" fill="#111" class="lv">40</text>
<rect x="404.7" y="200.4" width="11.4" height="5.3" fill="#cbe45c"/>
<text x="418.6" y="205.0" font-size="5.2" font-weight="bold" fill="#111" class="lv">50</text>
<rect x="404.7" y="208.6" width="11.4" height="5.3" fill="#a6d63a"/>
<text x="418.6" y="213.2" font-size="5.2" font-weight="bold" fill="#111" class="lv">100</text>
<rect x="404.7" y="216.8" width="11.4" height="5.3" fill="#7fc020"/>
<text x="418.6" y="221.4" font-size="5.2" font-weight="bold" fill="#111" class="lv">110</text>
<rect x="404.7" y="225.0" width="11.4" height="5.3" fill="#53a81a"/>
<text x="418.6" y="229.6" font-size="5.2" font-weight="bold" fill="#111" class="lv">150</text>
</g>
<text x="252.7" y="22.2" font-size="11.8" font-weight="bold" fill="#111" class="hv">(c)</text>
<text x="11.4" y="249" font-size="11.8" font-weight="bold" fill="#111" class="hv">(b)</text>
<g>
<path d="M26.6,305.5 L30.0,305.7 L37.5,305.1 L43.7,304.5 L51.2,304.0 L57.4,304.5 L62.4,305.2 L67.3,306.5 L69.8,308.2 L72.3,310.2 L74.8,309.8 L77.3,309.5 L79.2,310.5 L80.4,310.2 L81.7,311.1 L85.0,311.8 L87.5,311.8 L90.0,311.2 L91.8,311.5 L93.1,313.7 L95.0,314.9 L96.8,315.6 L97.5,317.4 L98.7,314.9 L100.6,314.3 L101.8,316.2 L103.7,313.1 L104.9,316.8 L106.2,317.4 L107.4,313.7 L109.3,316.2 L111.2,314.3 L113.0,312.5 L114.3,314.3 L115.5,316.8 L116.8,315.6 L118.0,318.1 L119.2,314.9 L121.1,315.6 L123.0,317.4 L124.9,318.7 L126.7,320.5 L127.6,323.0 L128.6,319.9 L129.8,315.6 L131.7,314.3 L133.6,316.2 L134.8,317.4 L136.7,315.6 L138.5,316.2 L139.8,318.1 L141.9,314.9 L143.7,313.1 L145.6,313.7 L147.5,312.5 L149.3,312.2 L152.5,314.3 L156.2,317.4 L159.9,319.9 L161.8,318.7 L164.3,317.4 L166.8,314.3 L169.9,314.9 L173.0,316.2 L175.5,315.6 L177.4,315.9 L179.9,313.1 L182.3,311.8 L184.8,311.0 L189.8,310.6 L194.8,310.6 L200.0,310.2 L206.0,309.5 L212.1,308.5 L216.5,307.8 L220.9,307.4 L227.5,307.2" fill="none" stroke="#3a3a3a" stroke-width="1" stroke-linejoin="round"/>
<path d="M26.6,306.7 C28.4,306.9 33.6,307.7 37.5,308.2 C41.4,308.7 45.8,309.1 49.9,309.5 C54.0,309.9 58.2,310.2 62.4,310.5 C66.5,310.8 71.0,311.0 74.8,311.2 C78.6,311.4 80.0,311.6 85.0,311.8 C90.0,312.0 98.1,312.1 105.0,312.1 C111.8,312.2 121.1,312.3 126.1,312.1 C131.1,311.9 131.7,311.3 134.8,311.0 C138.0,310.7 140.0,310.5 145.0,310.3 C150.0,310.1 158.5,310.0 164.9,310.0 C171.3,310.0 177.8,310.3 183.6,310.4 C189.4,310.5 192.7,310.6 200.0,310.6 C207.3,310.7 222.9,310.7 227.5,310.7" fill="none" stroke="#ff3232" stroke-width="1.15"/>
<rect x="26.5" y="255.6" width="200.7" height="121.0" fill="none" stroke="#606060" stroke-width="1.05"/>
<line x1="26.5" y1="376.6" x2="28.9" y2="376.6" stroke="#666" stroke-width="0.8"/>
<text x="24.0" y="378.4" font-size="5.2" font-weight="bold" text-anchor="end" fill="#222" class="lv">0</text>
<line x1="26.5" y1="364.5" x2="27.8" y2="364.5" stroke="#888" stroke-width="0.6"/>
<line x1="26.5" y1="352.4" x2="28.9" y2="352.4" stroke="#666" stroke-width="0.8"/>
<text x="24.0" y="354.2" font-size="5.2" font-weight="bold" text-anchor="end" fill="#222" class="lv">5</text>
<line x1="26.5" y1="340.3" x2="27.8" y2="340.3" stroke="#888" stroke-width="0.6"/>
<line x1="26.5" y1="328.2" x2="28.9" y2="328.2" stroke="#666" stroke-width="0.8"/>
<text x="24.0" y="330.0" font-size="5.2" font-weight="bold" text-anchor="end" fill="#222" class="lv">10</text>
<line x1="26.5" y1="316.1" x2="27.8" y2="316.1" stroke="#888" stroke-width="0.6"/>
<line x1="26.5" y1="304.0" x2="28.9" y2="304.0" stroke="#666" stroke-width="0.8"/>
<text x="24.0" y="305.8" font-size="5.2" font-weight="bold" text-anchor="end" fill="#222" class="lv">15</text>
<line x1="26.5" y1="291.9" x2="27.8" y2="291.9" stroke="#888" stroke-width="0.6"/>
<line x1="26.5" y1="279.8" x2="28.9" y2="279.8" stroke="#666" stroke-width="0.8"/>
<text x="24.0" y="281.6" font-size="5.2" font-weight="bold" text-anchor="end" fill="#222" class="lv">20</text>
<line x1="26.5" y1="267.7" x2="27.8" y2="267.7" stroke="#888" stroke-width="0.6"/>
<line x1="26.5" y1="255.6" x2="28.9" y2="255.6" stroke="#666" stroke-width="0.8"/>
<text x="24.0" y="257.4" font-size="5.2" font-weight="bold" text-anchor="end" fill="#222" class="lv">25</text>
<line x1="26.5" y1="376.6" x2="26.5" y2="374.20000000000005" stroke="#666" stroke-width="0.8"/>
<text x="26.5" y="383.40000000000003" font-size="5.06" font-weight="bold" text-anchor="middle" fill="#222" class="lv">2019/1/1</text>
<line x1="42.7" y1="376.6" x2="42.7" y2="375.3" stroke="#888" stroke-width="0.6"/>
<line x1="58.9" y1="376.6" x2="58.9" y2="374.20000000000005" stroke="#666" stroke-width="0.8"/>
<text x="58.9" y="383.40000000000003" font-size="5.06" font-weight="bold" text-anchor="middle" fill="#222" class="lv">2019/3/1</text>
<line x1="75.7" y1="376.6" x2="75.7" y2="375.3" stroke="#888" stroke-width="0.6"/>
<line x1="92.5" y1="376.6" x2="92.5" y2="374.20000000000005" stroke="#666" stroke-width="0.8"/>
<text x="92.5" y="383.40000000000003" font-size="5.06" font-weight="bold" text-anchor="middle" fill="#222" class="lv">2019/5/1</text>
<line x1="109.3" y1="376.6" x2="109.3" y2="375.3" stroke="#888" stroke-width="0.6"/>
<line x1="126.0" y1="376.6" x2="126.0" y2="374.20000000000005" stroke="#666" stroke-width="0.8"/>
<text x="126.0" y="383.40000000000003" font-size="5.06" font-weight="bold" text-anchor="middle" fill="#222" class="lv">2019/7/1</text>
<line x1="143.1" y1="376.6" x2="143.1" y2="375.3" stroke="#888" stroke-width="0.6"/>
<line x1="160.1" y1="376.6" x2="160.1" y2="374.20000000000005" stroke="#666" stroke-width="0.8"/>
<text x="160.1" y="383.40000000000003" font-size="5.06" font-weight="bold" text-anchor="middle" fill="#222" class="lv">2019/9/1</text>
<line x1="176.9" y1="376.6" x2="176.9" y2="375.3" stroke="#888" stroke-width="0.6"/>
<line x1="193.7" y1="376.6" x2="193.7" y2="374.20000000000005" stroke="#666" stroke-width="0.8"/>
<text x="193.7" y="383.40000000000003" font-size="5.06" font-weight="bold" text-anchor="middle" fill="#222" class="lv">2019/11/1</text>
<line x1="210.4" y1="376.6" x2="210.4" y2="375.3" stroke="#888" stroke-width="0.6"/>
<line x1="227.2" y1="376.6" x2="227.2" y2="374.20000000000005" stroke="#666" stroke-width="0.8"/>
<text x="227.2" y="383.40000000000003" font-size="5.06" font-weight="bold" text-anchor="middle" fill="#222" class="lv">2020/1/1</text>
<text x="99.6" y="268.1" font-size="8.1" font-weight="bold" fill="#111" class="hv">Ding Fuzhuang</text>
<text transform="translate(12.3,309.8) rotate(-90)" font-size="7" font-weight="bold" text-anchor="middle" fill="#111" class="hv" font-family="Liberation Sans, Noto Sans CJK SC, sans-serif" textLength="59.2" lengthAdjust="spacingAndGlyphs">Water Level（m）</text>
<text x="125.6" y="397.20000000000005" font-size="6.7" font-weight="bold" text-anchor="middle" fill="#111" class="hv">Time (d)</text>
<line x1="142.8" y1="356.9" x2="156.4" y2="356.9" stroke="#505050" stroke-width="1.1"/>
<line x1="142.8" y1="364.0" x2="156.4" y2="364.0" stroke="#ff3535" stroke-width="0.85"/>
<text x="158.9" y="359.0" font-size="6.25" font-weight="bold" fill="#111" class="hv">Measured Flow Field</text>
<text x="158.9" y="366.1" font-size="6.25" font-weight="bold" fill="#111" class="hv">Simulated Flow Field</text>
</g>
<g>
<path d="M262.3,314.8 C267.0,314.6 280.0,313.5 290.5,313.7 C301.0,313.9 313.0,315.3 325.4,315.9 C337.8,316.5 352.3,317.0 364.6,317.4 C376.9,317.8 389.1,318.1 399.2,318.0 C409.3,317.9 414.7,317.4 425.4,317.0 C436.1,316.6 457.1,315.8 463.5,315.5" fill="none" stroke="#3a3a3a" stroke-width="1.0"/>
<path d="M262.3,315.2 C267.4,315.1 282.2,314.6 292.7,314.8 C303.2,315.0 313.3,316.2 325.4,316.3 C337.4,316.4 352.0,315.9 365.0,315.5 C378.0,315.1 387.2,314.2 403.6,313.7 C420.0,313.2 453.5,312.8 463.5,312.6" fill="none" stroke="#ff3232" stroke-width="1.15"/>
<rect x="262.3" y="256.4" width="200.9" height="120.6" fill="none" stroke="#606060" stroke-width="1.05"/>
<line x1="262.3" y1="377.0" x2="264.7" y2="377.0" stroke="#666" stroke-width="0.8"/>
<text x="259.8" y="378.8" font-size="5.2" font-weight="bold" text-anchor="end" fill="#222" class="lv">0</text>
<line x1="262.3" y1="369.5" x2="263.6" y2="369.5" stroke="#888" stroke-width="0.6"/>
<line x1="262.3" y1="361.9" x2="264.7" y2="361.9" stroke="#666" stroke-width="0.8"/>
<text x="259.8" y="363.7" font-size="5.2" font-weight="bold" text-anchor="end" fill="#222" class="lv">5</text>
<line x1="262.3" y1="354.4" x2="263.6" y2="354.4" stroke="#888" stroke-width="0.6"/>
<line x1="262.3" y1="346.9" x2="264.7" y2="346.9" stroke="#666" stroke-width="0.8"/>
<text x="259.8" y="348.7" font-size="5.2" font-weight="bold" text-anchor="end" fill="#222" class="lv">10</text>
<line x1="262.3" y1="339.3" x2="263.6" y2="339.3" stroke="#888" stroke-width="0.6"/>
<line x1="262.3" y1="331.8" x2="264.7" y2="331.8" stroke="#666" stroke-width="0.8"/>
<text x="259.8" y="333.6" font-size="5.2" font-weight="bold" text-anchor="end" fill="#222" class="lv">15</text>
<line x1="262.3" y1="324.2" x2="263.6" y2="324.2" stroke="#888" stroke-width="0.6"/>
<line x1="262.3" y1="316.7" x2="264.7" y2="316.7" stroke="#666" stroke-width="0.8"/>
<text x="259.8" y="318.5" font-size="5.2" font-weight="bold" text-anchor="end" fill="#222" class="lv">20</text>
<line x1="262.3" y1="309.2" x2="263.6" y2="309.2" stroke="#888" stroke-width="0.6"/>
<line x1="262.3" y1="301.6" x2="264.7" y2="301.6" stroke="#666" stroke-width="0.8"/>
<text x="259.8" y="303.4" font-size="5.2" font-weight="bold" text-anchor="end" fill="#222" class="lv">25</text>
<line x1="262.3" y1="294.1" x2="263.6" y2="294.1" stroke="#888" stroke-width="0.6"/>
<line x1="262.3" y1="286.5" x2="264.7" y2="286.5" stroke="#666" stroke-width="0.8"/>
<text x="259.8" y="288.3" font-size="5.2" font-weight="bold" text-anchor="end" fill="#222" class="lv">30</text>
<line x1="262.3" y1="279.0" x2="263.6" y2="279.0" stroke="#888" stroke-width="0.6"/>
<line x1="262.3" y1="271.5" x2="264.7" y2="271.5" stroke="#666" stroke-width="0.8"/>
<text x="259.8" y="273.3" font-size="5.2" font-weight="bold" text-anchor="end" fill="#222" class="lv">35</text>
<line x1="262.3" y1="263.9" x2="263.6" y2="263.9" stroke="#888" stroke-width="0.6"/>
<line x1="262.3" y1="256.4" x2="264.7" y2="256.4" stroke="#666" stroke-width="0.8"/>
<text x="259.8" y="258.2" font-size="5.2" font-weight="bold" text-anchor="end" fill="#222" class="lv">40</text>
<line x1="262.3" y1="377.0" x2="262.3" y2="374.6" stroke="#666" stroke-width="0.8"/>
<text x="262.3" y="383.8" font-size="5.06" font-weight="bold" text-anchor="middle" fill="#222" class="lv">2019/1/1</text>
<line x1="278.5" y1="377.0" x2="278.5" y2="375.7" stroke="#888" stroke-width="0.6"/>
<line x1="294.8" y1="377.0" x2="294.8" y2="374.6" stroke="#666" stroke-width="0.8"/>
<text x="294.8" y="383.8" font-size="5.06" font-weight="bold" text-anchor="middle" fill="#222" class="lv">2019/3/1</text>
<line x1="311.6" y1="377.0" x2="311.6" y2="375.7" stroke="#888" stroke-width="0.6"/>
<line x1="328.3" y1="377.0" x2="328.3" y2="374.6" stroke="#666" stroke-width="0.8"/>
<text x="328.3" y="383.8" font-size="5.06" font-weight="bold" text-anchor="middle" fill="#222" class="lv">2019/5/1</text>
<line x1="345.1" y1="377.0" x2="345.1" y2="375.7" stroke="#888" stroke-width="0.6"/>
<line x1="361.9" y1="377.0" x2="361.9" y2="374.6" stroke="#666" stroke-width="0.8"/>
<text x="361.9" y="383.8" font-size="5.06" font-weight="bold" text-anchor="middle" fill="#222" class="lv">2019/7/1</text>
<line x1="379.0" y1="377.0" x2="379.0" y2="375.7" stroke="#888" stroke-width="0.6"/>
<line x1="396.0" y1="377.0" x2="396.0" y2="374.6" stroke="#666" stroke-width="0.8"/>
<text x="396.0" y="383.8" font-size="5.06" font-weight="bold" text-anchor="middle" fill="#222" class="lv">2019/9/1</text>
<line x1="412.8" y1="377.0" x2="412.8" y2="375.7" stroke="#888" stroke-width="0.6"/>
<line x1="429.6" y1="377.0" x2="429.6" y2="374.6" stroke="#666" stroke-width="0.8"/>
<text x="429.6" y="383.8" font-size="5.06" font-weight="bold" text-anchor="middle" fill="#222" class="lv">2019/11/1</text>
<line x1="446.4" y1="377.0" x2="446.4" y2="375.7" stroke="#888" stroke-width="0.6"/>
<line x1="463.2" y1="377.0" x2="463.2" y2="374.6" stroke="#666" stroke-width="0.8"/>
<text x="463.2" y="383.8" font-size="5.06" font-weight="bold" text-anchor="middle" fill="#222" class="lv">2020/1/1</text>
<text x="344" y="267.7" font-size="8.1" font-weight="bold" fill="#111" class="hv">Tai Fuzhuang</text>
<text transform="translate(248.10000000000002,310.4) rotate(-90)" font-size="7" font-weight="bold" text-anchor="middle" fill="#111" class="hv" font-family="Liberation Sans, Noto Sans CJK SC, sans-serif" textLength="59.2" lengthAdjust="spacingAndGlyphs">Water Level（m）</text>
<text x="361.6" y="397.6" font-size="6.7" font-weight="bold" text-anchor="middle" fill="#111" class="hv">Time (d)</text>
<line x1="377.8" y1="356.2" x2="391.4" y2="356.2" stroke="#505050" stroke-width="1.1"/>
<line x1="377.8" y1="363.4" x2="391.4" y2="363.4" stroke="#ff3535" stroke-width="0.85"/>
<text x="394.2" y="358.3" font-size="6.25" font-weight="bold" fill="#111" class="hv">Measured Flow Field</text>
<text x="394.2" y="365.5" font-size="6.25" font-weight="bold" fill="#111" class="hv">Simulated Flow Field</text>
</g>
<g>
<path d="M26.6,465.9 C31.4,465.6 48.5,464.5 55.5,464.4 C62.5,464.3 62.8,465.1 68.6,465.5 C74.4,465.9 83.2,466.6 90.4,467.0 C97.7,467.4 105.5,467.5 112.1,467.6 C118.7,467.7 125.7,467.4 130.0,467.4 C134.3,467.4 134.8,467.8 138.0,467.4 C141.2,467.0 143.9,465.3 149.0,464.8 C154.1,464.3 161.7,464.4 168.6,464.2 C175.5,463.9 183.2,463.5 190.4,463.3 C197.6,463.1 205.8,463.1 212.0,463.0 C218.2,462.9 224.9,463.0 227.5,463.0" fill="none" stroke="#3a3a3a" stroke-width="1.0"/>
<path d="M26.6,465.9 C31.8,465.5 47.1,464.3 57.7,463.7 C68.3,463.1 84.5,462.4 90.4,462.2 C96.3,461.9 91.2,461.6 93.0,462.2 C94.8,462.8 98.5,465.1 101.3,465.9 C104.1,466.7 105.2,466.8 110.0,467.0 C114.8,467.2 124.9,467.2 130.0,467.4 C135.1,467.6 133.9,468.1 140.3,468.0 C146.7,467.9 158.4,467.5 168.6,467.0 C178.8,466.5 191.5,465.9 201.3,465.2 C211.1,464.5 223.1,463.4 227.5,463.0" fill="none" stroke="#ff3232" stroke-width="1.15"/>
<rect x="26.5" y="415.5" width="200.8" height="120.8" fill="none" stroke="#606060" stroke-width="1.05"/>
<line x1="26.5" y1="536.3" x2="28.9" y2="536.3" stroke="#666" stroke-width="0.8"/>
<text x="24.0" y="538.1" font-size="5.2" font-weight="bold" text-anchor="end" fill="#222" class="lv">0</text>
<line x1="26.5" y1="527.7" x2="27.8" y2="527.7" stroke="#888" stroke-width="0.6"/>
<line x1="26.5" y1="519.0" x2="28.9" y2="519.0" stroke="#666" stroke-width="0.8"/>
<text x="24.0" y="520.8" font-size="5.2" font-weight="bold" text-anchor="end" fill="#222" class="lv">5</text>
<line x1="26.5" y1="510.4" x2="27.8" y2="510.4" stroke="#888" stroke-width="0.6"/>
<line x1="26.5" y1="501.8" x2="28.9" y2="501.8" stroke="#666" stroke-width="0.8"/>
<text x="24.0" y="503.6" font-size="5.2" font-weight="bold" text-anchor="end" fill="#222" class="lv">10</text>
<line x1="26.5" y1="493.2" x2="27.8" y2="493.2" stroke="#888" stroke-width="0.6"/>
<line x1="26.5" y1="484.5" x2="28.9" y2="484.5" stroke="#666" stroke-width="0.8"/>
<text x="24.0" y="486.3" font-size="5.2" font-weight="bold" text-anchor="end" fill="#222" class="lv">15</text>
<line x1="26.5" y1="475.9" x2="27.8" y2="475.9" stroke="#888" stroke-width="0.6"/>
<line x1="26.5" y1="467.3" x2="28.9" y2="467.3" stroke="#666" stroke-width="0.8"/>
<text x="24.0" y="469.1" font-size="5.2" font-weight="bold" text-anchor="end" fill="#222" class="lv">20</text>
<line x1="26.5" y1="458.6" x2="27.8" y2="458.6" stroke="#888" stroke-width="0.6"/>
<line x1="26.5" y1="450.0" x2="28.9" y2="450.0" stroke="#666" stroke-width="0.8"/>
<text x="24.0" y="451.8" font-size="5.2" font-weight="bold" text-anchor="end" fill="#222" class="lv">25</text>
<line x1="26.5" y1="441.4" x2="27.8" y2="441.4" stroke="#888" stroke-width="0.6"/>
<line x1="26.5" y1="432.8" x2="28.9" y2="432.8" stroke="#666" stroke-width="0.8"/>
<text x="24.0" y="434.6" font-size="5.2" font-weight="bold" text-anchor="end" fill="#222" class="lv">30</text>
<line x1="26.5" y1="424.1" x2="27.8" y2="424.1" stroke="#888" stroke-width="0.6"/>
<line x1="26.5" y1="415.5" x2="28.9" y2="415.5" stroke="#666" stroke-width="0.8"/>
<text x="24.0" y="417.3" font-size="5.2" font-weight="bold" text-anchor="end" fill="#222" class="lv">35</text>
<line x1="26.5" y1="536.3" x2="26.5" y2="533.9" stroke="#666" stroke-width="0.8"/>
<text x="26.5" y="543.0999999999999" font-size="5.06" font-weight="bold" text-anchor="middle" fill="#222" class="lv">2019/1/1</text>
<line x1="42.7" y1="536.3" x2="42.7" y2="535.0" stroke="#888" stroke-width="0.6"/>
<line x1="59.0" y1="536.3" x2="59.0" y2="533.9" stroke="#666" stroke-width="0.8"/>
<text x="59.0" y="543.0999999999999" font-size="5.06" font-weight="bold" text-anchor="middle" fill="#222" class="lv">2019/3/1</text>
<line x1="75.7" y1="536.3" x2="75.7" y2="535.0" stroke="#888" stroke-width="0.6"/>
<line x1="92.5" y1="536.3" x2="92.5" y2="533.9" stroke="#666" stroke-width="0.8"/>
<text x="92.5" y="543.0999999999999" font-size="5.06" font-weight="bold" text-anchor="middle" fill="#222" class="lv">2019/5/1</text>
<line x1="109.3" y1="536.3" x2="109.3" y2="535.0" stroke="#888" stroke-width="0.6"/>
<line x1="126.1" y1="536.3" x2="126.1" y2="533.9" stroke="#666" stroke-width="0.8"/>
<text x="126.1" y="543.0999999999999" font-size="5.06" font-weight="bold" text-anchor="middle" fill="#222" class="lv">2019/7/1</text>
<line x1="143.1" y1="536.3" x2="143.1" y2="535.0" stroke="#888" stroke-width="0.6"/>
<line x1="160.2" y1="536.3" x2="160.2" y2="533.9" stroke="#666" stroke-width="0.8"/>
<text x="160.2" y="543.0999999999999" font-size="5.06" font-weight="bold" text-anchor="middle" fill="#222" class="lv">2019/9/1</text>
<line x1="177.0" y1="536.3" x2="177.0" y2="535.0" stroke="#888" stroke-width="0.6"/>
<line x1="193.7" y1="536.3" x2="193.7" y2="533.9" stroke="#666" stroke-width="0.8"/>
<text x="193.7" y="543.0999999999999" font-size="5.06" font-weight="bold" text-anchor="middle" fill="#222" class="lv">2019/11/1</text>
<line x1="210.5" y1="536.3" x2="210.5" y2="535.0" stroke="#888" stroke-width="0.6"/>
<line x1="227.3" y1="536.3" x2="227.3" y2="533.9" stroke="#666" stroke-width="0.8"/>
<text x="227.3" y="543.0999999999999" font-size="5.06" font-weight="bold" text-anchor="middle" fill="#222" class="lv">2020/1/1</text>
<text x="106.2" y="426.6" font-size="8.1" font-weight="bold" fill="#111" class="hv">Feng Yi Brige</text>
<text transform="translate(12.3,469.6) rotate(-90)" font-size="7" font-weight="bold" text-anchor="middle" fill="#111" class="hv" font-family="Liberation Sans, Noto Sans CJK SC, sans-serif" textLength="59.2" lengthAdjust="spacingAndGlyphs">Water Level（m）</text>
<line x1="140.2" y1="516.5" x2="153.8" y2="516.5" stroke="#505050" stroke-width="1.1"/>
<line x1="140.2" y1="524.0" x2="153.8" y2="524.0" stroke="#ff3535" stroke-width="0.85"/>
<text x="157.2" y="518.6" font-size="6.25" font-weight="bold" fill="#111" class="hv">Measured Flow Field</text>
<text x="157.2" y="526.1" font-size="6.25" font-weight="bold" fill="#111" class="hv">Simulated Flow Field</text>
</g>
<g>
<path d="M262.4,469.8 C267.4,469.9 284.0,470.2 292.7,470.5 C301.4,470.8 308.3,471.3 314.5,471.6 C320.7,471.9 326.1,472.4 329.7,472.2 C333.3,472.0 333.8,471.3 336.3,470.5 C338.9,469.7 342.5,468.5 345.0,467.2 C347.5,465.9 349.7,464.3 351.5,462.9 C353.3,461.4 354.1,459.9 355.9,458.5 C357.7,457.1 359.9,455.4 362.4,454.2 C364.9,453.0 366.9,452.1 370.9,451.3 C374.8,450.5 380.7,449.6 386.1,449.4 C391.6,449.1 397.1,449.5 403.6,449.8 C410.2,450.1 418.1,450.8 425.4,451.3 C432.6,451.9 440.8,452.6 447.1,453.1 C453.5,453.6 460.8,454.0 463.5,454.2" fill="none" stroke="#3a3a3a" stroke-width="1.0"/>
<path d="M262.4,468.8 C267.4,468.5 282.2,467.7 292.7,467.2 C303.2,466.7 318.1,466.1 325.4,465.7 C332.7,465.3 331.9,465.2 336.3,464.6 C340.7,464.0 347.6,462.8 351.5,462.2 C355.4,461.6 357.1,461.9 360.0,461.1 C362.9,460.3 365.1,458.7 368.7,457.4 C372.3,456.1 376.0,454.0 381.8,453.1 C387.6,452.2 396.3,452.2 403.6,452.0 C410.9,451.8 418.1,451.8 425.4,452.0 C432.6,452.2 440.8,452.7 447.1,453.1 C453.5,453.5 460.8,454.2 463.5,454.4" fill="none" stroke="#ff3232" stroke-width="1.15"/>
<rect x="262.3" y="415.5" width="200.6" height="120.8" fill="none" stroke="#606060" stroke-width="1.05"/>
<line x1="262.3" y1="536.3" x2="264.7" y2="536.3" stroke="#666" stroke-width="0.8"/>
<text x="259.8" y="538.1" font-size="5.2" font-weight="bold" text-anchor="end" fill="#222" class="lv">10</text>
<line x1="262.3" y1="526.2" x2="263.6" y2="526.2" stroke="#888" stroke-width="0.6"/>
<line x1="262.3" y1="516.2" x2="264.7" y2="516.2" stroke="#666" stroke-width="0.8"/>
<text x="259.8" y="518.0" font-size="5.2" font-weight="bold" text-anchor="end" fill="#222" class="lv">15</text>
<line x1="262.3" y1="506.1" x2="263.6" y2="506.1" stroke="#888" stroke-width="0.6"/>
<line x1="262.3" y1="496.0" x2="264.7" y2="496.0" stroke="#666" stroke-width="0.8"/>
<text x="259.8" y="497.8" font-size="5.2" font-weight="bold" text-anchor="end" fill="#222" class="lv">20</text>
<line x1="262.3" y1="486.0" x2="263.6" y2="486.0" stroke="#888" stroke-width="0.6"/>
<line x1="262.3" y1="475.9" x2="264.7" y2="475.9" stroke="#666" stroke-width="0.8"/>
<text x="259.8" y="477.7" font-size="5.2" font-weight="bold" text-anchor="end" fill="#222" class="lv">25</text>
<line x1="262.3" y1="465.8" x2="263.6" y2="465.8" stroke="#888" stroke-width="0.6"/>
<line x1="262.3" y1="455.8" x2="264.7" y2="455.8" stroke="#666" stroke-width="0.8"/>
<text x="259.8" y="457.6" font-size="5.2" font-weight="bold" text-anchor="end" fill="#222" class="lv">30</text>
<line x1="262.3" y1="445.7" x2="263.6" y2="445.7" stroke="#888" stroke-width="0.6"/>
<line x1="262.3" y1="435.6" x2="264.7" y2="435.6" stroke="#666" stroke-width="0.8"/>
<text x="259.8" y="437.4" font-size="5.2" font-weight="bold" text-anchor="end" fill="#222" class="lv">35</text>
<line x1="262.3" y1="425.6" x2="263.6" y2="425.6" stroke="#888" stroke-width="0.6"/>
<line x1="262.3" y1="415.5" x2="264.7" y2="415.5" stroke="#666" stroke-width="0.8"/>
<text x="259.8" y="417.3" font-size="5.2" font-weight="bold" text-anchor="end" fill="#222" class="lv">40</text>
<line x1="262.3" y1="536.3" x2="262.3" y2="533.9" stroke="#666" stroke-width="0.8"/>
<text x="262.3" y="543.0999999999999" font-size="5.06" font-weight="bold" text-anchor="middle" fill="#222" class="lv">2019/1/1</text>
<line x1="278.5" y1="536.3" x2="278.5" y2="535.0" stroke="#888" stroke-width="0.6"/>
<line x1="294.7" y1="536.3" x2="294.7" y2="533.9" stroke="#666" stroke-width="0.8"/>
<text x="294.7" y="543.0999999999999" font-size="5.06" font-weight="bold" text-anchor="middle" fill="#222" class="lv">2019/3/1</text>
<line x1="311.5" y1="536.3" x2="311.5" y2="535.0" stroke="#888" stroke-width="0.6"/>
<line x1="328.3" y1="536.3" x2="328.3" y2="533.9" stroke="#666" stroke-width="0.8"/>
<text x="328.3" y="543.0999999999999" font-size="5.06" font-weight="bold" text-anchor="middle" fill="#222" class="lv">2019/5/1</text>
<line x1="345.0" y1="536.3" x2="345.0" y2="535.0" stroke="#888" stroke-width="0.6"/>
<line x1="361.8" y1="536.3" x2="361.8" y2="533.9" stroke="#666" stroke-width="0.8"/>
<text x="361.8" y="543.0999999999999" font-size="5.06" font-weight="bold" text-anchor="middle" fill="#222" class="lv">2019/7/1</text>
<line x1="378.8" y1="536.3" x2="378.8" y2="535.0" stroke="#888" stroke-width="0.6"/>
<line x1="395.9" y1="536.3" x2="395.9" y2="533.9" stroke="#666" stroke-width="0.8"/>
<text x="395.9" y="543.0999999999999" font-size="5.06" font-weight="bold" text-anchor="middle" fill="#222" class="lv">2019/9/1</text>
<line x1="412.6" y1="536.3" x2="412.6" y2="535.0" stroke="#888" stroke-width="0.6"/>
<line x1="429.4" y1="536.3" x2="429.4" y2="533.9" stroke="#666" stroke-width="0.8"/>
<text x="429.4" y="543.0999999999999" font-size="5.06" font-weight="bold" text-anchor="middle" fill="#222" class="lv">2019/11/1</text>
<line x1="446.1" y1="536.3" x2="446.1" y2="535.0" stroke="#888" stroke-width="0.6"/>
<line x1="462.9" y1="536.3" x2="462.9" y2="533.9" stroke="#666" stroke-width="0.8"/>
<text x="462.9" y="543.0999999999999" font-size="5.06" font-weight="bold" text-anchor="middle" fill="#222" class="lv">2020/1/1</text>
<text x="351" y="426.4" font-size="8.1" font-weight="bold" fill="#111" class="hv">Bao Tai</text>
<text transform="translate(248.10000000000002,469.6) rotate(-90)" font-size="7" font-weight="bold" text-anchor="middle" fill="#111" class="hv" font-family="Liberation Sans, Noto Sans CJK SC, sans-serif" textLength="59.2" lengthAdjust="spacingAndGlyphs">Water Level（m）</text>
<line x1="377.2" y1="516.2" x2="390.8" y2="516.2" stroke="#505050" stroke-width="1.1"/>
<line x1="377.2" y1="523.4" x2="390.8" y2="523.4" stroke="#ff3535" stroke-width="0.85"/>
<text x="393.7" y="518.3" font-size="6.25" font-weight="bold" fill="#111" class="hv">Measured Flow Field</text>
<text x="393.7" y="525.5" font-size="6.25" font-weight="bold" fill="#111" class="hv">Simulated Flow Field</text>
</g>
</svg>
</body></html>
